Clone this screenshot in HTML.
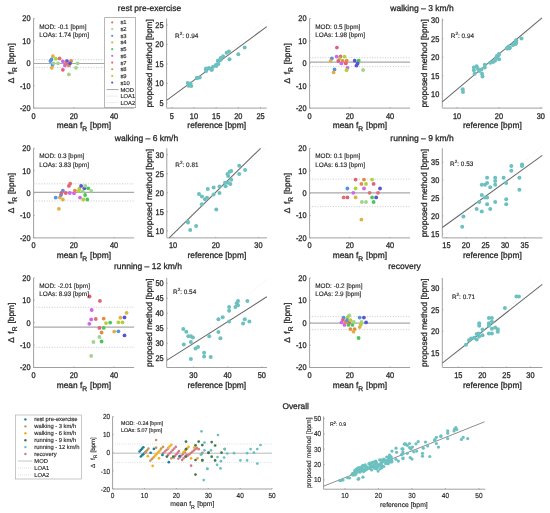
<!DOCTYPE html><html><head><meta charset="utf-8"><style>html,body{margin:0;padding:0;background:#fff;overflow:hidden;font-family:"Liberation Sans",sans-serif}svg{display:block;filter:blur(0.3px)}</style></head><body><svg width="550" height="513" viewBox="0 0 550 513" font-family="Liberation Sans, sans-serif"><style>text{stroke:#222;stroke-width:0.26px;text-rendering:geometricPrecision} text[font-size^="5"],text[font-size^="6"]{stroke-width:0.14px}</style>
<rect width="550" height="513" fill="#ffffff"/>
<text x="149.50" y="11.40" font-size="8.5" text-anchor="middle" fill="#262626">rest pre-exercise</text>
<text x="422.00" y="11.40" font-size="8.5" text-anchor="middle" fill="#262626">walking &#8211; 3 km/h</text>
<line x1="33.60" y1="18.50" x2="33.60" y2="108.10" stroke="#a0a0a0" stroke-width="1"/>
<line x1="33.60" y1="108.10" x2="134.10" y2="108.10" stroke="#a0a0a0" stroke-width="1"/>
<line x1="33.60" y1="108.10" x2="33.60" y2="107.10" stroke="#a0a0a0" stroke-width="1"/>
<text transform="translate(33.60 118.60) scale(1 1.12)" font-size="7.4" text-anchor="middle" fill="#262626">0</text>
<line x1="73.80" y1="108.10" x2="73.80" y2="107.10" stroke="#a0a0a0" stroke-width="1"/>
<text transform="translate(73.80 118.60) scale(1 1.12)" font-size="7.4" text-anchor="middle" fill="#262626">20</text>
<line x1="114.00" y1="108.10" x2="114.00" y2="107.10" stroke="#a0a0a0" stroke-width="1"/>
<text transform="translate(114.00 118.60) scale(1 1.12)" font-size="7.4" text-anchor="middle" fill="#262626">40</text>
<line x1="33.60" y1="108.10" x2="34.60" y2="108.10" stroke="#a0a0a0" stroke-width="1"/>
<text transform="translate(30.60 111.08) scale(1 1.12)" font-size="7.4" text-anchor="end" fill="#262626">-20</text>
<line x1="33.60" y1="85.70" x2="34.60" y2="85.70" stroke="#a0a0a0" stroke-width="1"/>
<text transform="translate(30.60 88.68) scale(1 1.12)" font-size="7.4" text-anchor="end" fill="#262626">-10</text>
<line x1="33.60" y1="63.30" x2="34.60" y2="63.30" stroke="#a0a0a0" stroke-width="1"/>
<text transform="translate(30.60 66.28) scale(1 1.12)" font-size="7.4" text-anchor="end" fill="#262626">0</text>
<line x1="33.60" y1="40.90" x2="34.60" y2="40.90" stroke="#a0a0a0" stroke-width="1"/>
<text transform="translate(30.60 43.88) scale(1 1.12)" font-size="7.4" text-anchor="end" fill="#262626">10</text>
<line x1="33.60" y1="18.50" x2="34.60" y2="18.50" stroke="#a0a0a0" stroke-width="1"/>
<text transform="translate(30.60 21.48) scale(1 1.12)" font-size="7.4" text-anchor="end" fill="#262626">20</text>
<line x1="33.60" y1="59.63" x2="134.10" y2="59.63" stroke="#bdbdbd" stroke-width="0.8" stroke-dasharray="1 1.6"/>
<line x1="33.60" y1="67.42" x2="134.10" y2="67.42" stroke="#bdbdbd" stroke-width="0.8" stroke-dasharray="1 1.6"/>
<line x1="33.60" y1="63.52" x2="134.10" y2="63.52" stroke="#a8a8a8" stroke-width="1.2"/>
<circle cx="52.90" cy="56.20" r="1.9" fill="#e0b045"/>
<circle cx="51.50" cy="59.50" r="1.9" fill="#5593e2"/>
<circle cx="50.40" cy="61.10" r="1.9" fill="#5593e2"/>
<circle cx="52.50" cy="64.90" r="1.9" fill="#5593e2"/>
<circle cx="55.80" cy="58.70" r="1.9" fill="#b2d03a"/>
<circle cx="53.60" cy="63.30" r="1.9" fill="#a2d28f"/>
<circle cx="58.00" cy="63.30" r="1.9" fill="#a2d28f"/>
<circle cx="51.80" cy="67.80" r="1.9" fill="#e0b045"/>
<circle cx="59.60" cy="58.40" r="1.9" fill="#e27070"/>
<circle cx="62.90" cy="61.30" r="1.9" fill="#d066f0"/>
<circle cx="64.90" cy="65.40" r="1.9" fill="#d066f0"/>
<circle cx="62.90" cy="69.80" r="1.9" fill="#e3607a"/>
<circle cx="67.00" cy="61.10" r="1.9" fill="#5a55d2"/>
<circle cx="71.10" cy="60.90" r="1.9" fill="#e38a48"/>
<circle cx="68.90" cy="65.40" r="1.9" fill="#e38a48"/>
<circle cx="70.00" cy="63.30" r="1.9" fill="#5a55d2"/>
<circle cx="77.60" cy="63.30" r="1.9" fill="#a2d28f"/>
<circle cx="76.00" cy="67.80" r="1.9" fill="#a2d28f"/>
<circle cx="68.90" cy="74.40" r="1.9" fill="#a2d28f"/>
<circle cx="66.00" cy="63.50" r="1.9" fill="#e27070"/>
<text x="39.20" y="28.60" font-size="6.4" text-anchor="start" fill="#262626">MOD: -0.1 [bpm]</text>
<text x="39.20" y="36.70" font-size="6.4" text-anchor="start" fill="#262626">LOAs: 1.74 [bpm]</text>
<text x="83.85" y="128.30" font-size="8.4" text-anchor="middle" fill="#262626">mean f<tspan font-size="6.72" dy="3">R</tspan><tspan dy="-3" dx="0.6"> [bpm]</tspan></text>
<text x="14.00" y="63.30" font-size="8.4" text-anchor="middle" fill="#262626" transform="rotate(-90 14.00 63.30)">&#916;<tspan dx="1.6"> f</tspan><tspan font-size="6.72" dy="3">R</tspan><tspan dy="-3" dx="0.6"> [bpm]</tspan></text>
<rect x="104.6" y="17.6" width="31" height="90" fill="#ffffff" stroke="#a6a6a6" stroke-width="0.8"/>
<circle cx="112.20" cy="22.40" r="1.1" fill="#e27070"/>
<text x="120.40" y="24.40" font-size="5.8" text-anchor="start" fill="#262626">s1</text>
<circle cx="112.20" cy="29.09" r="1.1" fill="#a2d28f"/>
<text x="120.40" y="31.09" font-size="5.8" text-anchor="start" fill="#262626">s2</text>
<circle cx="112.20" cy="35.78" r="1.1" fill="#5593e2"/>
<text x="120.40" y="37.78" font-size="5.8" text-anchor="start" fill="#262626">s3</text>
<circle cx="112.20" cy="42.47" r="1.1" fill="#e0b045"/>
<text x="120.40" y="44.47" font-size="5.8" text-anchor="start" fill="#262626">s4</text>
<circle cx="112.20" cy="49.16" r="1.1" fill="#48c858"/>
<text x="120.40" y="51.16" font-size="5.8" text-anchor="start" fill="#262626">s5</text>
<circle cx="112.20" cy="55.85" r="1.1" fill="#d066f0"/>
<text x="120.40" y="57.85" font-size="5.8" text-anchor="start" fill="#262626">s6</text>
<circle cx="112.20" cy="62.54" r="1.1" fill="#e3607a"/>
<text x="120.40" y="64.54" font-size="5.8" text-anchor="start" fill="#262626">s7</text>
<circle cx="112.20" cy="69.23" r="1.1" fill="#e38a48"/>
<text x="120.40" y="71.23" font-size="5.8" text-anchor="start" fill="#262626">s8</text>
<circle cx="112.20" cy="75.92" r="1.1" fill="#b2d03a"/>
<text x="120.40" y="77.92" font-size="5.8" text-anchor="start" fill="#262626">s9</text>
<circle cx="112.20" cy="82.61" r="1.1" fill="#5a55d2"/>
<text x="120.40" y="84.61" font-size="5.8" text-anchor="start" fill="#262626">s10</text>
<line x1="106.50" y1="89.60" x2="118.50" y2="89.60" stroke="#909090" stroke-width="0.8"/>
<text x="120.40" y="91.60" font-size="5.8" text-anchor="start" fill="#262626">MOD</text>
<line x1="106.50" y1="96.10" x2="118.50" y2="96.10" stroke="#cfcfcf" stroke-width="0.8" stroke-dasharray="1 1"/>
<text x="120.40" y="98.10" font-size="5.8" text-anchor="start" fill="#262626">LOA1</text>
<line x1="106.50" y1="102.60" x2="118.50" y2="102.60" stroke="#cfcfcf" stroke-width="0.8" stroke-dasharray="1 1"/>
<text x="120.40" y="104.60" font-size="5.8" text-anchor="start" fill="#262626">LOA2</text>
<line x1="166.60" y1="18.50" x2="166.60" y2="108.10" stroke="#a0a0a0" stroke-width="1"/>
<line x1="166.60" y1="108.10" x2="266.80" y2="108.10" stroke="#a0a0a0" stroke-width="1"/>
<line x1="171.79" y1="108.10" x2="171.79" y2="107.10" stroke="#a0a0a0" stroke-width="1"/>
<text transform="translate(171.79 118.60) scale(1 1.12)" font-size="7.4" text-anchor="middle" fill="#262626">5</text>
<line x1="193.97" y1="108.10" x2="193.97" y2="107.10" stroke="#a0a0a0" stroke-width="1"/>
<text transform="translate(193.97 118.60) scale(1 1.12)" font-size="7.4" text-anchor="middle" fill="#262626">10</text>
<line x1="216.15" y1="108.10" x2="216.15" y2="107.10" stroke="#a0a0a0" stroke-width="1"/>
<text transform="translate(216.15 118.60) scale(1 1.12)" font-size="7.4" text-anchor="middle" fill="#262626">15</text>
<line x1="238.32" y1="108.10" x2="238.32" y2="107.10" stroke="#a0a0a0" stroke-width="1"/>
<text transform="translate(238.32 118.60) scale(1 1.12)" font-size="7.4" text-anchor="middle" fill="#262626">20</text>
<line x1="260.50" y1="108.10" x2="260.50" y2="107.10" stroke="#a0a0a0" stroke-width="1"/>
<text transform="translate(260.50 118.60) scale(1 1.12)" font-size="7.4" text-anchor="middle" fill="#262626">25</text>
<line x1="166.60" y1="102.92" x2="167.60" y2="102.92" stroke="#a0a0a0" stroke-width="1"/>
<text transform="translate(163.60 105.90) scale(1 1.12)" font-size="7.4" text-anchor="end" fill="#262626">5</text>
<line x1="166.60" y1="83.44" x2="167.60" y2="83.44" stroke="#a0a0a0" stroke-width="1"/>
<text transform="translate(163.60 86.42) scale(1 1.12)" font-size="7.4" text-anchor="end" fill="#262626">10</text>
<line x1="166.60" y1="63.96" x2="167.60" y2="63.96" stroke="#a0a0a0" stroke-width="1"/>
<text transform="translate(163.60 66.95) scale(1 1.12)" font-size="7.4" text-anchor="end" fill="#262626">15</text>
<line x1="166.60" y1="44.48" x2="167.60" y2="44.48" stroke="#a0a0a0" stroke-width="1"/>
<text transform="translate(163.60 47.47) scale(1 1.12)" font-size="7.4" text-anchor="end" fill="#262626">20</text>
<line x1="166.60" y1="25.01" x2="167.60" y2="25.01" stroke="#a0a0a0" stroke-width="1"/>
<text transform="translate(163.60 27.99) scale(1 1.12)" font-size="7.4" text-anchor="end" fill="#262626">25</text>
<line x1="166.60" y1="107.48" x2="266.80" y2="19.47" stroke="#dedede" stroke-width="0.6" stroke-dasharray="1 1.5"/>
<line x1="166.60" y1="100.30" x2="266.80" y2="26.60" stroke="#686868" stroke-width="1.05"/>
<circle cx="244.70" cy="47.50" r="2.0" fill="#6cc0c0"/>
<circle cx="238.30" cy="54.20" r="2.0" fill="#6cc0c0"/>
<circle cx="229.50" cy="59.20" r="2.0" fill="#6cc0c0"/>
<circle cx="228.90" cy="51.60" r="2.0" fill="#6cc0c0"/>
<circle cx="226.60" cy="52.80" r="2.0" fill="#6cc0c0"/>
<circle cx="223.10" cy="56.30" r="2.0" fill="#6cc0c0"/>
<circle cx="220.70" cy="58.10" r="2.0" fill="#6cc0c0"/>
<circle cx="217.80" cy="61.00" r="2.0" fill="#6cc0c0"/>
<circle cx="218.40" cy="63.90" r="2.0" fill="#6cc0c0"/>
<circle cx="216.00" cy="65.10" r="2.0" fill="#6cc0c0"/>
<circle cx="213.10" cy="66.80" r="2.0" fill="#6cc0c0"/>
<circle cx="211.40" cy="69.80" r="2.0" fill="#6cc0c0"/>
<circle cx="209.00" cy="68.00" r="2.0" fill="#6cc0c0"/>
<circle cx="206.10" cy="68.60" r="2.0" fill="#6cc0c0"/>
<circle cx="206.10" cy="70.90" r="2.0" fill="#6cc0c0"/>
<circle cx="199.70" cy="77.40" r="2.0" fill="#6cc0c0"/>
<circle cx="196.80" cy="78.00" r="2.0" fill="#6cc0c0"/>
<circle cx="187.80" cy="83.00" r="2.0" fill="#6cc0c0"/>
<circle cx="190.50" cy="83.40" r="2.0" fill="#6cc0c0"/>
<circle cx="188.50" cy="85.80" r="2.0" fill="#6cc0c0"/>
<circle cx="191.30" cy="86.00" r="2.0" fill="#6cc0c0"/>
<circle cx="197.20" cy="78.00" r="2.0" fill="#6cc0c0"/>
<circle cx="205.90" cy="69.30" r="2.0" fill="#6cc0c0"/>
<circle cx="211.90" cy="69.80" r="2.0" fill="#6cc0c0"/>
<circle cx="216.30" cy="66.00" r="2.0" fill="#6cc0c0"/>
<circle cx="218.40" cy="60.50" r="2.0" fill="#6cc0c0"/>
<circle cx="220.60" cy="60.00" r="2.0" fill="#6cc0c0"/>
<text x="175.10" y="37.80" font-size="6.4" fill="#262626">R<tspan font-size="4.61" dy="-2.8">2</tspan><tspan dy="2.8">: 0.94</tspan></text>
<text x="216.70" y="128.30" font-size="8.4" text-anchor="middle" fill="#262626">reference [bpm]</text>
<text transform="translate(151.60 63.30) rotate(-90) scale(1 1.0)" font-size="8.4" text-anchor="middle" fill="#262626">proposed method [bpm]</text>
<line x1="309.60" y1="18.50" x2="309.60" y2="108.10" stroke="#a0a0a0" stroke-width="1"/>
<line x1="309.60" y1="108.10" x2="410.10" y2="108.10" stroke="#a0a0a0" stroke-width="1"/>
<line x1="309.60" y1="108.10" x2="309.60" y2="107.10" stroke="#a0a0a0" stroke-width="1"/>
<text transform="translate(309.60 118.60) scale(1 1.12)" font-size="7.4" text-anchor="middle" fill="#262626">0</text>
<line x1="349.80" y1="108.10" x2="349.80" y2="107.10" stroke="#a0a0a0" stroke-width="1"/>
<text transform="translate(349.80 118.60) scale(1 1.12)" font-size="7.4" text-anchor="middle" fill="#262626">20</text>
<line x1="390.00" y1="108.10" x2="390.00" y2="107.10" stroke="#a0a0a0" stroke-width="1"/>
<text transform="translate(390.00 118.60) scale(1 1.12)" font-size="7.4" text-anchor="middle" fill="#262626">40</text>
<line x1="309.60" y1="108.10" x2="310.60" y2="108.10" stroke="#a0a0a0" stroke-width="1"/>
<text transform="translate(306.60 111.08) scale(1 1.12)" font-size="7.4" text-anchor="end" fill="#262626">-20</text>
<line x1="309.60" y1="85.70" x2="310.60" y2="85.70" stroke="#a0a0a0" stroke-width="1"/>
<text transform="translate(306.60 88.68) scale(1 1.12)" font-size="7.4" text-anchor="end" fill="#262626">-10</text>
<line x1="309.60" y1="63.30" x2="310.60" y2="63.30" stroke="#a0a0a0" stroke-width="1"/>
<text transform="translate(306.60 66.28) scale(1 1.12)" font-size="7.4" text-anchor="end" fill="#262626">0</text>
<line x1="309.60" y1="40.90" x2="310.60" y2="40.90" stroke="#a0a0a0" stroke-width="1"/>
<text transform="translate(306.60 43.88) scale(1 1.12)" font-size="7.4" text-anchor="end" fill="#262626">10</text>
<line x1="309.60" y1="18.50" x2="310.60" y2="18.50" stroke="#a0a0a0" stroke-width="1"/>
<text transform="translate(306.60 21.48) scale(1 1.12)" font-size="7.4" text-anchor="end" fill="#262626">20</text>
<line x1="309.60" y1="57.74" x2="410.10" y2="57.74" stroke="#bdbdbd" stroke-width="0.8" stroke-dasharray="1 1.6"/>
<line x1="309.60" y1="66.62" x2="410.10" y2="66.62" stroke="#bdbdbd" stroke-width="0.8" stroke-dasharray="1 1.6"/>
<line x1="309.60" y1="62.18" x2="410.10" y2="62.18" stroke="#a8a8a8" stroke-width="1.2"/>
<circle cx="336.90" cy="47.60" r="1.9" fill="#e3607a"/>
<circle cx="331.80" cy="58.50" r="1.9" fill="#5593e2"/>
<circle cx="330.60" cy="61.00" r="1.9" fill="#e0b045"/>
<circle cx="336.60" cy="56.60" r="1.9" fill="#d066f0"/>
<circle cx="340.50" cy="56.40" r="1.9" fill="#e27070"/>
<circle cx="339.60" cy="58.80" r="1.9" fill="#b2d03a"/>
<circle cx="344.50" cy="56.60" r="1.9" fill="#b2d03a"/>
<circle cx="338.30" cy="61.00" r="1.9" fill="#e3607a"/>
<circle cx="342.70" cy="60.90" r="1.9" fill="#e38a48"/>
<circle cx="346.70" cy="60.70" r="1.9" fill="#e38a48"/>
<circle cx="341.30" cy="63.40" r="1.9" fill="#d066f0"/>
<circle cx="345.80" cy="63.40" r="1.9" fill="#e3607a"/>
<circle cx="347.50" cy="67.80" r="1.9" fill="#d066f0"/>
<circle cx="346.50" cy="70.20" r="1.9" fill="#b2d03a"/>
<circle cx="334.50" cy="69.40" r="1.9" fill="#5593e2"/>
<circle cx="333.60" cy="72.40" r="1.9" fill="#e0b045"/>
<circle cx="354.70" cy="60.70" r="1.9" fill="#5a55d2"/>
<circle cx="358.70" cy="60.70" r="1.9" fill="#48c858"/>
<circle cx="357.60" cy="63.40" r="1.9" fill="#5a55d2"/>
<circle cx="356.50" cy="65.60" r="1.9" fill="#5a55d2"/>
<circle cx="363.10" cy="70.00" r="1.9" fill="#a2d28f"/>
<text x="315.20" y="28.60" font-size="6.4" text-anchor="start" fill="#262626">MOD: 0.5 [bpm]</text>
<text x="315.20" y="36.70" font-size="6.4" text-anchor="start" fill="#262626">LOAs: 1.98 [bpm]</text>
<text x="359.85" y="128.30" font-size="8.4" text-anchor="middle" fill="#262626">mean f<tspan font-size="6.72" dy="3">R</tspan><tspan dy="-3" dx="0.6"> [bpm]</tspan></text>
<text x="290.00" y="63.30" font-size="8.4" text-anchor="middle" fill="#262626" transform="rotate(-90 290.00 63.30)">&#916;<tspan dx="1.6"> f</tspan><tspan font-size="6.72" dy="3">R</tspan><tspan dy="-3" dx="0.6"> [bpm]</tspan></text>
<line x1="442.30" y1="18.50" x2="442.30" y2="108.10" stroke="#a0a0a0" stroke-width="1"/>
<line x1="442.30" y1="108.10" x2="542.50" y2="108.10" stroke="#a0a0a0" stroke-width="1"/>
<line x1="457.08" y1="108.10" x2="457.08" y2="107.10" stroke="#a0a0a0" stroke-width="1"/>
<text transform="translate(457.08 118.60) scale(1 1.12)" font-size="7.4" text-anchor="middle" fill="#262626">10</text>
<line x1="498.95" y1="108.10" x2="498.95" y2="107.10" stroke="#a0a0a0" stroke-width="1"/>
<text transform="translate(498.95 118.60) scale(1 1.12)" font-size="7.4" text-anchor="middle" fill="#262626">20</text>
<line x1="540.83" y1="108.10" x2="540.83" y2="107.10" stroke="#a0a0a0" stroke-width="1"/>
<text transform="translate(540.83 118.60) scale(1 1.12)" font-size="7.4" text-anchor="middle" fill="#262626">30</text>
<line x1="442.30" y1="94.09" x2="443.30" y2="94.09" stroke="#a0a0a0" stroke-width="1"/>
<text transform="translate(439.30 97.07) scale(1 1.12)" font-size="7.4" text-anchor="end" fill="#262626">10</text>
<line x1="442.30" y1="75.65" x2="443.30" y2="75.65" stroke="#a0a0a0" stroke-width="1"/>
<text transform="translate(439.30 78.64) scale(1 1.12)" font-size="7.4" text-anchor="end" fill="#262626">15</text>
<line x1="442.30" y1="57.22" x2="443.30" y2="57.22" stroke="#a0a0a0" stroke-width="1"/>
<text transform="translate(439.30 60.20) scale(1 1.12)" font-size="7.4" text-anchor="end" fill="#262626">20</text>
<line x1="442.30" y1="38.78" x2="443.30" y2="38.78" stroke="#a0a0a0" stroke-width="1"/>
<text transform="translate(439.30 41.76) scale(1 1.12)" font-size="7.4" text-anchor="end" fill="#262626">25</text>
<line x1="442.30" y1="20.34" x2="443.30" y2="20.34" stroke="#a0a0a0" stroke-width="1"/>
<text transform="translate(439.30 23.33) scale(1 1.12)" font-size="7.4" text-anchor="end" fill="#262626">30</text>
<line x1="442.30" y1="107.10" x2="542.50" y2="18.87" stroke="#dedede" stroke-width="0.6" stroke-dasharray="1 1.5"/>
<line x1="442.30" y1="101.80" x2="542.00" y2="17.80" stroke="#686868" stroke-width="1.05"/>
<circle cx="462.70" cy="89.30" r="2.0" fill="#6cc0c0"/>
<circle cx="463.00" cy="92.10" r="2.0" fill="#6cc0c0"/>
<circle cx="473.90" cy="67.50" r="2.0" fill="#6cc0c0"/>
<circle cx="473.90" cy="70.20" r="2.0" fill="#6cc0c0"/>
<circle cx="474.60" cy="73.70" r="2.0" fill="#6cc0c0"/>
<circle cx="476.60" cy="66.20" r="2.0" fill="#6cc0c0"/>
<circle cx="478.00" cy="68.90" r="2.0" fill="#6cc0c0"/>
<circle cx="479.30" cy="70.90" r="2.0" fill="#6cc0c0"/>
<circle cx="481.40" cy="69.60" r="2.0" fill="#6cc0c0"/>
<circle cx="482.00" cy="73.70" r="2.0" fill="#6cc0c0"/>
<circle cx="482.50" cy="76.40" r="2.0" fill="#6cc0c0"/>
<circle cx="484.80" cy="64.80" r="2.0" fill="#6cc0c0"/>
<circle cx="484.80" cy="67.50" r="2.0" fill="#6cc0c0"/>
<circle cx="490.20" cy="62.70" r="2.0" fill="#6cc0c0"/>
<circle cx="493.00" cy="62.00" r="2.0" fill="#6cc0c0"/>
<circle cx="495.00" cy="60.70" r="2.0" fill="#6cc0c0"/>
<circle cx="496.40" cy="57.30" r="2.0" fill="#6cc0c0"/>
<circle cx="498.40" cy="55.20" r="2.0" fill="#6cc0c0"/>
<circle cx="497.00" cy="58.60" r="2.0" fill="#6cc0c0"/>
<circle cx="499.10" cy="59.30" r="2.0" fill="#6cc0c0"/>
<circle cx="507.30" cy="47.70" r="2.0" fill="#6cc0c0"/>
<circle cx="510.00" cy="47.70" r="2.0" fill="#6cc0c0"/>
<circle cx="508.70" cy="46.40" r="2.0" fill="#6cc0c0"/>
<circle cx="513.40" cy="44.30" r="2.0" fill="#6cc0c0"/>
<circle cx="516.20" cy="43.00" r="2.0" fill="#6cc0c0"/>
<circle cx="516.20" cy="40.20" r="2.0" fill="#6cc0c0"/>
<circle cx="521.50" cy="38.50" r="2.0" fill="#6cc0c0"/>
<circle cx="516.00" cy="40.50" r="2.0" fill="#6cc0c0"/>
<circle cx="515.50" cy="44.00" r="2.0" fill="#6cc0c0"/>
<circle cx="513.00" cy="45.00" r="2.0" fill="#6cc0c0"/>
<circle cx="509.00" cy="48.50" r="2.0" fill="#6cc0c0"/>
<circle cx="507.00" cy="48.50" r="2.0" fill="#6cc0c0"/>
<circle cx="497.00" cy="56.00" r="2.0" fill="#6cc0c0"/>
<circle cx="499.00" cy="54.00" r="2.0" fill="#6cc0c0"/>
<text x="450.80" y="37.80" font-size="6.4" fill="#262626">R<tspan font-size="4.61" dy="-2.8">2</tspan><tspan dy="2.8">: 0.94</tspan></text>
<text x="492.40" y="128.30" font-size="8.4" text-anchor="middle" fill="#262626">reference [bpm]</text>
<text transform="translate(427.30 63.30) rotate(-90) scale(1 1.0)" font-size="8.4" text-anchor="middle" fill="#262626">proposed method [bpm]</text>
<text x="146.50" y="140.80" font-size="8.5" text-anchor="middle" fill="#262626">walking &#8211; 6 km/h</text>
<text x="422.00" y="140.80" font-size="8.5" text-anchor="middle" fill="#262626">running &#8211; 9 km/h</text>
<line x1="33.60" y1="148.30" x2="33.60" y2="237.90" stroke="#a0a0a0" stroke-width="1"/>
<line x1="33.60" y1="237.90" x2="134.10" y2="237.90" stroke="#a0a0a0" stroke-width="1"/>
<line x1="33.60" y1="237.90" x2="33.60" y2="236.90" stroke="#a0a0a0" stroke-width="1"/>
<text transform="translate(33.60 248.40) scale(1 1.12)" font-size="7.4" text-anchor="middle" fill="#262626">0</text>
<line x1="73.80" y1="237.90" x2="73.80" y2="236.90" stroke="#a0a0a0" stroke-width="1"/>
<text transform="translate(73.80 248.40) scale(1 1.12)" font-size="7.4" text-anchor="middle" fill="#262626">20</text>
<line x1="114.00" y1="237.90" x2="114.00" y2="236.90" stroke="#a0a0a0" stroke-width="1"/>
<text transform="translate(114.00 248.40) scale(1 1.12)" font-size="7.4" text-anchor="middle" fill="#262626">40</text>
<line x1="33.60" y1="237.90" x2="34.60" y2="237.90" stroke="#a0a0a0" stroke-width="1"/>
<text transform="translate(30.60 240.88) scale(1 1.12)" font-size="7.4" text-anchor="end" fill="#262626">-20</text>
<line x1="33.60" y1="215.50" x2="34.60" y2="215.50" stroke="#a0a0a0" stroke-width="1"/>
<text transform="translate(30.60 218.48) scale(1 1.12)" font-size="7.4" text-anchor="end" fill="#262626">-10</text>
<line x1="33.60" y1="193.10" x2="34.60" y2="193.10" stroke="#a0a0a0" stroke-width="1"/>
<text transform="translate(30.60 196.08) scale(1 1.12)" font-size="7.4" text-anchor="end" fill="#262626">0</text>
<line x1="33.60" y1="170.70" x2="34.60" y2="170.70" stroke="#a0a0a0" stroke-width="1"/>
<text transform="translate(30.60 173.68) scale(1 1.12)" font-size="7.4" text-anchor="end" fill="#262626">10</text>
<line x1="33.60" y1="148.30" x2="34.60" y2="148.30" stroke="#a0a0a0" stroke-width="1"/>
<text transform="translate(30.60 151.28) scale(1 1.12)" font-size="7.4" text-anchor="end" fill="#262626">20</text>
<line x1="33.60" y1="183.85" x2="134.10" y2="183.85" stroke="#bdbdbd" stroke-width="0.8" stroke-dasharray="1 1.6"/>
<line x1="33.60" y1="201.01" x2="134.10" y2="201.01" stroke="#bdbdbd" stroke-width="0.8" stroke-dasharray="1 1.6"/>
<line x1="33.60" y1="192.43" x2="134.10" y2="192.43" stroke="#a8a8a8" stroke-width="1.2"/>
<circle cx="55.70" cy="197.60" r="1.9" fill="#5593e2"/>
<circle cx="59.80" cy="197.60" r="1.9" fill="#e0b045"/>
<circle cx="60.90" cy="195.00" r="1.9" fill="#5593e2"/>
<circle cx="62.90" cy="190.60" r="1.9" fill="#5593e2"/>
<circle cx="61.50" cy="193.00" r="1.9" fill="#e3607a"/>
<circle cx="62.90" cy="199.50" r="1.9" fill="#e0b045"/>
<circle cx="58.90" cy="208.80" r="1.9" fill="#e0b045"/>
<circle cx="65.80" cy="193.00" r="1.9" fill="#e3607a"/>
<circle cx="70.20" cy="183.70" r="1.9" fill="#e27070"/>
<circle cx="68.90" cy="185.90" r="1.9" fill="#e3607a"/>
<circle cx="69.80" cy="193.00" r="1.9" fill="#d066f0"/>
<circle cx="74.00" cy="193.30" r="1.9" fill="#d066f0"/>
<circle cx="74.90" cy="190.60" r="1.9" fill="#e38a48"/>
<circle cx="79.40" cy="188.60" r="1.9" fill="#b2d03a"/>
<circle cx="78.90" cy="190.80" r="1.9" fill="#b2d03a"/>
<circle cx="81.10" cy="185.90" r="1.9" fill="#5a55d2"/>
<circle cx="84.40" cy="188.30" r="1.9" fill="#5a55d2"/>
<circle cx="85.20" cy="185.90" r="1.9" fill="#a2d28f"/>
<circle cx="82.70" cy="191.40" r="1.9" fill="#a2d28f"/>
<circle cx="88.20" cy="188.30" r="1.9" fill="#48c858"/>
<circle cx="85.10" cy="195.00" r="1.9" fill="#48c858"/>
<circle cx="87.30" cy="199.50" r="1.9" fill="#48c858"/>
<circle cx="91.20" cy="190.80" r="1.9" fill="#a2d28f"/>
<circle cx="80.00" cy="197.60" r="1.9" fill="#d066f0"/>
<circle cx="83.30" cy="199.50" r="1.9" fill="#b2d03a"/>
<text x="39.20" y="158.40" font-size="6.4" text-anchor="start" fill="#262626">MOD: 0.3 [bpm]</text>
<text x="39.20" y="166.50" font-size="6.4" text-anchor="start" fill="#262626">LOAs: 3.83 [bpm]</text>
<text x="83.85" y="258.10" font-size="8.4" text-anchor="middle" fill="#262626">mean f<tspan font-size="6.72" dy="3">R</tspan><tspan dy="-3" dx="0.6"> [bpm]</tspan></text>
<text x="14.00" y="193.10" font-size="8.4" text-anchor="middle" fill="#262626" transform="rotate(-90 14.00 193.10)">&#916;<tspan dx="1.6"> f</tspan><tspan font-size="6.72" dy="3">R</tspan><tspan dy="-3" dx="0.6"> [bpm]</tspan></text>
<line x1="166.80" y1="148.30" x2="166.80" y2="237.90" stroke="#a0a0a0" stroke-width="1"/>
<line x1="166.80" y1="237.90" x2="267.00" y2="237.90" stroke="#a0a0a0" stroke-width="1"/>
<line x1="173.12" y1="237.90" x2="173.12" y2="236.90" stroke="#a0a0a0" stroke-width="1"/>
<text transform="translate(173.12 248.40) scale(1 1.12)" font-size="7.4" text-anchor="middle" fill="#262626">10</text>
<line x1="215.79" y1="237.90" x2="215.79" y2="236.90" stroke="#a0a0a0" stroke-width="1"/>
<text transform="translate(215.79 248.40) scale(1 1.12)" font-size="7.4" text-anchor="middle" fill="#262626">20</text>
<line x1="258.47" y1="237.90" x2="258.47" y2="236.90" stroke="#a0a0a0" stroke-width="1"/>
<text transform="translate(258.47 248.40) scale(1 1.12)" font-size="7.4" text-anchor="middle" fill="#262626">30</text>
<line x1="166.80" y1="230.79" x2="167.80" y2="230.79" stroke="#a0a0a0" stroke-width="1"/>
<text transform="translate(163.80 233.77) scale(1 1.12)" font-size="7.4" text-anchor="end" fill="#262626">10</text>
<line x1="166.80" y1="211.78" x2="167.80" y2="211.78" stroke="#a0a0a0" stroke-width="1"/>
<text transform="translate(163.80 214.77) scale(1 1.12)" font-size="7.4" text-anchor="end" fill="#262626">15</text>
<line x1="166.80" y1="192.78" x2="167.80" y2="192.78" stroke="#a0a0a0" stroke-width="1"/>
<text transform="translate(163.80 195.76) scale(1 1.12)" font-size="7.4" text-anchor="end" fill="#262626">20</text>
<line x1="166.80" y1="173.77" x2="167.80" y2="173.77" stroke="#a0a0a0" stroke-width="1"/>
<text transform="translate(163.80 176.75) scale(1 1.12)" font-size="7.4" text-anchor="end" fill="#262626">25</text>
<line x1="166.80" y1="154.76" x2="167.80" y2="154.76" stroke="#a0a0a0" stroke-width="1"/>
<text transform="translate(163.80 157.75) scale(1 1.12)" font-size="7.4" text-anchor="end" fill="#262626">30</text>
<line x1="166.80" y1="236.42" x2="265.72" y2="148.30" stroke="#dedede" stroke-width="0.6" stroke-dasharray="1 1.5"/>
<line x1="169.20" y1="237.90" x2="260.60" y2="148.30" stroke="#686868" stroke-width="1.05"/>
<circle cx="187.60" cy="221.40" r="2.0" fill="#6cc0c0"/>
<circle cx="188.00" cy="222.60" r="2.0" fill="#6cc0c0"/>
<circle cx="190.20" cy="229.90" r="2.0" fill="#6cc0c0"/>
<circle cx="196.10" cy="226.10" r="2.0" fill="#6cc0c0"/>
<circle cx="199.00" cy="194.10" r="2.0" fill="#6cc0c0"/>
<circle cx="201.90" cy="196.50" r="2.0" fill="#6cc0c0"/>
<circle cx="201.90" cy="204.20" r="2.0" fill="#6cc0c0"/>
<circle cx="204.90" cy="199.20" r="2.0" fill="#6cc0c0"/>
<circle cx="207.00" cy="197.70" r="2.0" fill="#6cc0c0"/>
<circle cx="207.80" cy="188.90" r="2.0" fill="#6cc0c0"/>
<circle cx="213.60" cy="187.50" r="2.0" fill="#6cc0c0"/>
<circle cx="213.60" cy="194.40" r="2.0" fill="#6cc0c0"/>
<circle cx="216.30" cy="209.40" r="2.0" fill="#6cc0c0"/>
<circle cx="219.50" cy="186.60" r="2.0" fill="#6cc0c0"/>
<circle cx="219.50" cy="192.90" r="2.0" fill="#6cc0c0"/>
<circle cx="225.00" cy="182.70" r="2.0" fill="#6cc0c0"/>
<circle cx="225.60" cy="186.30" r="2.0" fill="#6cc0c0"/>
<circle cx="228.00" cy="182.70" r="2.0" fill="#6cc0c0"/>
<circle cx="230.40" cy="184.10" r="2.0" fill="#6cc0c0"/>
<circle cx="231.20" cy="179.70" r="2.0" fill="#6cc0c0"/>
<circle cx="227.50" cy="173.90" r="2.0" fill="#6cc0c0"/>
<circle cx="228.20" cy="176.10" r="2.0" fill="#6cc0c0"/>
<circle cx="229.70" cy="171.70" r="2.0" fill="#6cc0c0"/>
<circle cx="231.20" cy="171.00" r="2.0" fill="#6cc0c0"/>
<circle cx="239.20" cy="165.80" r="2.0" fill="#6cc0c0"/>
<circle cx="239.20" cy="173.90" r="2.0" fill="#6cc0c0"/>
<circle cx="245.10" cy="169.90" r="2.0" fill="#6cc0c0"/>
<text x="175.30" y="166.80" font-size="6.4" fill="#262626">R<tspan font-size="4.61" dy="-2.8">2</tspan><tspan dy="2.8">: 0.81</tspan></text>
<text x="216.90" y="258.10" font-size="8.4" text-anchor="middle" fill="#262626">reference [bpm]</text>
<text transform="translate(151.80 193.10) rotate(-90) scale(1 1.0)" font-size="8.4" text-anchor="middle" fill="#262626">proposed method [bpm]</text>
<line x1="309.60" y1="148.30" x2="309.60" y2="237.90" stroke="#a0a0a0" stroke-width="1"/>
<line x1="309.60" y1="237.90" x2="410.10" y2="237.90" stroke="#a0a0a0" stroke-width="1"/>
<line x1="309.60" y1="237.90" x2="309.60" y2="236.90" stroke="#a0a0a0" stroke-width="1"/>
<text transform="translate(309.60 248.40) scale(1 1.12)" font-size="7.4" text-anchor="middle" fill="#262626">0</text>
<line x1="349.80" y1="237.90" x2="349.80" y2="236.90" stroke="#a0a0a0" stroke-width="1"/>
<text transform="translate(349.80 248.40) scale(1 1.12)" font-size="7.4" text-anchor="middle" fill="#262626">20</text>
<line x1="390.00" y1="237.90" x2="390.00" y2="236.90" stroke="#a0a0a0" stroke-width="1"/>
<text transform="translate(390.00 248.40) scale(1 1.12)" font-size="7.4" text-anchor="middle" fill="#262626">40</text>
<line x1="309.60" y1="237.90" x2="310.60" y2="237.90" stroke="#a0a0a0" stroke-width="1"/>
<text transform="translate(306.60 240.88) scale(1 1.12)" font-size="7.4" text-anchor="end" fill="#262626">-20</text>
<line x1="309.60" y1="215.50" x2="310.60" y2="215.50" stroke="#a0a0a0" stroke-width="1"/>
<text transform="translate(306.60 218.48) scale(1 1.12)" font-size="7.4" text-anchor="end" fill="#262626">-10</text>
<line x1="309.60" y1="193.10" x2="310.60" y2="193.10" stroke="#a0a0a0" stroke-width="1"/>
<text transform="translate(306.60 196.08) scale(1 1.12)" font-size="7.4" text-anchor="end" fill="#262626">0</text>
<line x1="309.60" y1="170.70" x2="310.60" y2="170.70" stroke="#a0a0a0" stroke-width="1"/>
<text transform="translate(306.60 173.68) scale(1 1.12)" font-size="7.4" text-anchor="end" fill="#262626">10</text>
<line x1="309.60" y1="148.30" x2="310.60" y2="148.30" stroke="#a0a0a0" stroke-width="1"/>
<text transform="translate(306.60 151.28) scale(1 1.12)" font-size="7.4" text-anchor="end" fill="#262626">20</text>
<line x1="309.60" y1="179.14" x2="410.10" y2="179.14" stroke="#bdbdbd" stroke-width="0.8" stroke-dasharray="1 1.6"/>
<line x1="309.60" y1="206.61" x2="410.10" y2="206.61" stroke="#bdbdbd" stroke-width="0.8" stroke-dasharray="1 1.6"/>
<line x1="309.60" y1="192.88" x2="410.10" y2="192.88" stroke="#a8a8a8" stroke-width="1.2"/>
<circle cx="343.60" cy="197.40" r="1.9" fill="#e27070"/>
<circle cx="347.40" cy="197.40" r="1.9" fill="#e3607a"/>
<circle cx="347.40" cy="188.50" r="1.9" fill="#5593e2"/>
<circle cx="353.30" cy="192.80" r="1.9" fill="#d066f0"/>
<circle cx="355.60" cy="179.60" r="1.9" fill="#e3607a"/>
<circle cx="355.60" cy="197.40" r="1.9" fill="#e0b045"/>
<circle cx="355.60" cy="188.50" r="1.9" fill="#b2d03a"/>
<circle cx="361.40" cy="183.90" r="1.9" fill="#e38a48"/>
<circle cx="364.00" cy="179.60" r="1.9" fill="#e38a48"/>
<circle cx="366.00" cy="183.90" r="1.9" fill="#b2d03a"/>
<circle cx="364.00" cy="188.50" r="1.9" fill="#d066f0"/>
<circle cx="361.90" cy="202.00" r="1.9" fill="#a2d28f"/>
<circle cx="366.00" cy="202.00" r="1.9" fill="#a2d28f"/>
<circle cx="361.40" cy="219.60" r="1.9" fill="#e0b045"/>
<circle cx="369.60" cy="192.80" r="1.9" fill="#e27070"/>
<circle cx="372.10" cy="179.60" r="1.9" fill="#b2d03a"/>
<circle cx="373.60" cy="183.90" r="1.9" fill="#e3607a"/>
<circle cx="372.10" cy="197.40" r="1.9" fill="#48c858"/>
<circle cx="373.60" cy="202.00" r="1.9" fill="#48c858"/>
<circle cx="376.20" cy="197.40" r="1.9" fill="#5a55d2"/>
<circle cx="378.00" cy="192.80" r="1.9" fill="#e27070"/>
<circle cx="380.00" cy="188.50" r="1.9" fill="#5a55d2"/>
<text x="315.20" y="158.40" font-size="6.4" text-anchor="start" fill="#262626">MOD: 0.1 [bpm]</text>
<text x="315.20" y="166.50" font-size="6.4" text-anchor="start" fill="#262626">LOAs: 6.13 [bpm]</text>
<text x="359.85" y="258.10" font-size="8.4" text-anchor="middle" fill="#262626">mean f<tspan font-size="6.72" dy="3">R</tspan><tspan dy="-3" dx="0.6"> [bpm]</tspan></text>
<text x="290.00" y="193.10" font-size="8.4" text-anchor="middle" fill="#262626" transform="rotate(-90 290.00 193.10)">&#916;<tspan dx="1.6"> f</tspan><tspan font-size="6.72" dy="3">R</tspan><tspan dy="-3" dx="0.6"> [bpm]</tspan></text>
<line x1="442.30" y1="148.30" x2="442.30" y2="237.90" stroke="#a0a0a0" stroke-width="1"/>
<line x1="442.30" y1="237.90" x2="542.50" y2="237.90" stroke="#a0a0a0" stroke-width="1"/>
<line x1="446.41" y1="237.90" x2="446.41" y2="236.90" stroke="#a0a0a0" stroke-width="1"/>
<text transform="translate(446.41 248.40) scale(1 1.12)" font-size="7.4" text-anchor="middle" fill="#262626">15</text>
<line x1="465.97" y1="237.90" x2="465.97" y2="236.90" stroke="#a0a0a0" stroke-width="1"/>
<text transform="translate(465.97 248.40) scale(1 1.12)" font-size="7.4" text-anchor="middle" fill="#262626">20</text>
<line x1="485.53" y1="237.90" x2="485.53" y2="236.90" stroke="#a0a0a0" stroke-width="1"/>
<text transform="translate(485.53 248.40) scale(1 1.12)" font-size="7.4" text-anchor="middle" fill="#262626">25</text>
<line x1="505.10" y1="237.90" x2="505.10" y2="236.90" stroke="#a0a0a0" stroke-width="1"/>
<text transform="translate(505.10 248.40) scale(1 1.12)" font-size="7.4" text-anchor="middle" fill="#262626">30</text>
<line x1="524.66" y1="237.90" x2="524.66" y2="236.90" stroke="#a0a0a0" stroke-width="1"/>
<text transform="translate(524.66 248.40) scale(1 1.12)" font-size="7.4" text-anchor="middle" fill="#262626">35</text>
<line x1="442.30" y1="233.79" x2="443.30" y2="233.79" stroke="#a0a0a0" stroke-width="1"/>
<text transform="translate(439.30 236.77) scale(1 1.12)" font-size="7.4" text-anchor="end" fill="#262626">15</text>
<line x1="442.30" y1="215.90" x2="443.30" y2="215.90" stroke="#a0a0a0" stroke-width="1"/>
<text transform="translate(439.30 218.89) scale(1 1.12)" font-size="7.4" text-anchor="end" fill="#262626">20</text>
<line x1="442.30" y1="198.02" x2="443.30" y2="198.02" stroke="#a0a0a0" stroke-width="1"/>
<text transform="translate(439.30 201.00) scale(1 1.12)" font-size="7.4" text-anchor="end" fill="#262626">25</text>
<line x1="442.30" y1="180.13" x2="443.30" y2="180.13" stroke="#a0a0a0" stroke-width="1"/>
<text transform="translate(439.30 183.12) scale(1 1.12)" font-size="7.4" text-anchor="end" fill="#262626">30</text>
<line x1="442.30" y1="162.25" x2="443.30" y2="162.25" stroke="#a0a0a0" stroke-width="1"/>
<text transform="translate(439.30 165.23) scale(1 1.12)" font-size="7.4" text-anchor="end" fill="#262626">35</text>
<line x1="442.30" y1="237.54" x2="539.92" y2="148.30" stroke="#dedede" stroke-width="0.6" stroke-dasharray="1 1.5"/>
<line x1="442.30" y1="227.50" x2="542.30" y2="155.40" stroke="#686868" stroke-width="1.05"/>
<circle cx="462.20" cy="226.70" r="2.0" fill="#6cc0c0"/>
<circle cx="463.40" cy="216.50" r="2.0" fill="#6cc0c0"/>
<circle cx="476.70" cy="208.90" r="2.0" fill="#6cc0c0"/>
<circle cx="479.20" cy="202.00" r="2.0" fill="#6cc0c0"/>
<circle cx="481.80" cy="211.40" r="2.0" fill="#6cc0c0"/>
<circle cx="481.80" cy="194.90" r="2.0" fill="#6cc0c0"/>
<circle cx="481.80" cy="184.70" r="2.0" fill="#6cc0c0"/>
<circle cx="485.00" cy="184.70" r="2.0" fill="#6cc0c0"/>
<circle cx="485.00" cy="197.40" r="2.0" fill="#6cc0c0"/>
<circle cx="487.10" cy="177.80" r="2.0" fill="#6cc0c0"/>
<circle cx="487.10" cy="182.90" r="2.0" fill="#6cc0c0"/>
<circle cx="487.10" cy="204.30" r="2.0" fill="#6cc0c0"/>
<circle cx="487.10" cy="197.40" r="2.0" fill="#6cc0c0"/>
<circle cx="490.20" cy="187.30" r="2.0" fill="#6cc0c0"/>
<circle cx="490.20" cy="208.90" r="2.0" fill="#6cc0c0"/>
<circle cx="495.20" cy="177.80" r="2.0" fill="#6cc0c0"/>
<circle cx="495.20" cy="180.90" r="2.0" fill="#6cc0c0"/>
<circle cx="495.20" cy="184.70" r="2.0" fill="#6cc0c0"/>
<circle cx="495.20" cy="202.00" r="2.0" fill="#6cc0c0"/>
<circle cx="503.60" cy="177.80" r="2.0" fill="#6cc0c0"/>
<circle cx="506.20" cy="182.90" r="2.0" fill="#6cc0c0"/>
<circle cx="506.20" cy="199.20" r="2.0" fill="#6cc0c0"/>
<circle cx="506.20" cy="204.30" r="2.0" fill="#6cc0c0"/>
<circle cx="511.30" cy="166.10" r="2.0" fill="#6cc0c0"/>
<circle cx="511.30" cy="170.70" r="2.0" fill="#6cc0c0"/>
<circle cx="519.40" cy="177.80" r="2.0" fill="#6cc0c0"/>
<circle cx="519.40" cy="189.80" r="2.0" fill="#6cc0c0"/>
<circle cx="522.00" cy="164.40" r="2.0" fill="#6cc0c0"/>
<circle cx="522.00" cy="166.10" r="2.0" fill="#6cc0c0"/>
<text x="450.10" y="165.60" font-size="6.4" fill="#262626">R<tspan font-size="4.61" dy="-2.8">2</tspan><tspan dy="2.8">: 0.53</tspan></text>
<text x="492.40" y="258.10" font-size="8.4" text-anchor="middle" fill="#262626">reference [bpm]</text>
<text transform="translate(427.30 193.10) rotate(-90) scale(1 1.0)" font-size="8.4" text-anchor="middle" fill="#262626">proposed method [bpm]</text>
<text x="147.90" y="269.30" font-size="8.5" text-anchor="middle" fill="#262626">running &#8211; 12 km/h</text>
<text x="404.50" y="269.30" font-size="8.5" text-anchor="middle" fill="#262626">recovery</text>
<line x1="33.60" y1="277.90" x2="33.60" y2="367.50" stroke="#a0a0a0" stroke-width="1"/>
<line x1="33.60" y1="367.50" x2="134.10" y2="367.50" stroke="#a0a0a0" stroke-width="1"/>
<line x1="33.60" y1="367.50" x2="33.60" y2="366.50" stroke="#a0a0a0" stroke-width="1"/>
<text transform="translate(33.60 378.00) scale(1 1.12)" font-size="7.4" text-anchor="middle" fill="#262626">0</text>
<line x1="73.80" y1="367.50" x2="73.80" y2="366.50" stroke="#a0a0a0" stroke-width="1"/>
<text transform="translate(73.80 378.00) scale(1 1.12)" font-size="7.4" text-anchor="middle" fill="#262626">20</text>
<line x1="114.00" y1="367.50" x2="114.00" y2="366.50" stroke="#a0a0a0" stroke-width="1"/>
<text transform="translate(114.00 378.00) scale(1 1.12)" font-size="7.4" text-anchor="middle" fill="#262626">40</text>
<line x1="33.60" y1="367.50" x2="34.60" y2="367.50" stroke="#a0a0a0" stroke-width="1"/>
<text transform="translate(30.60 370.48) scale(1 1.12)" font-size="7.4" text-anchor="end" fill="#262626">-20</text>
<line x1="33.60" y1="345.10" x2="34.60" y2="345.10" stroke="#a0a0a0" stroke-width="1"/>
<text transform="translate(30.60 348.08) scale(1 1.12)" font-size="7.4" text-anchor="end" fill="#262626">-10</text>
<line x1="33.60" y1="322.70" x2="34.60" y2="322.70" stroke="#a0a0a0" stroke-width="1"/>
<text transform="translate(30.60 325.68) scale(1 1.12)" font-size="7.4" text-anchor="end" fill="#262626">0</text>
<line x1="33.60" y1="300.30" x2="34.60" y2="300.30" stroke="#a0a0a0" stroke-width="1"/>
<text transform="translate(30.60 303.28) scale(1 1.12)" font-size="7.4" text-anchor="end" fill="#262626">10</text>
<line x1="33.60" y1="277.90" x2="34.60" y2="277.90" stroke="#a0a0a0" stroke-width="1"/>
<text transform="translate(30.60 280.88) scale(1 1.12)" font-size="7.4" text-anchor="end" fill="#262626">20</text>
<line x1="33.60" y1="307.20" x2="134.10" y2="307.20" stroke="#bdbdbd" stroke-width="0.8" stroke-dasharray="1 1.6"/>
<line x1="33.60" y1="347.21" x2="134.10" y2="347.21" stroke="#bdbdbd" stroke-width="0.8" stroke-dasharray="1 1.6"/>
<line x1="33.60" y1="327.20" x2="134.10" y2="327.20" stroke="#a8a8a8" stroke-width="1.2"/>
<circle cx="89.60" cy="296.50" r="1.9" fill="#e3607a"/>
<circle cx="99.90" cy="300.90" r="1.9" fill="#e3607a"/>
<circle cx="91.70" cy="310.00" r="1.9" fill="#d066f0"/>
<circle cx="91.20" cy="319.40" r="1.9" fill="#d066f0"/>
<circle cx="89.30" cy="323.80" r="1.9" fill="#d066f0"/>
<circle cx="95.80" cy="319.00" r="1.9" fill="#e27070"/>
<circle cx="103.70" cy="318.60" r="1.9" fill="#e38a48"/>
<circle cx="106.00" cy="323.10" r="1.9" fill="#b2d03a"/>
<circle cx="110.20" cy="322.60" r="1.9" fill="#48c858"/>
<circle cx="99.40" cy="327.90" r="1.9" fill="#e3607a"/>
<circle cx="103.70" cy="327.90" r="1.9" fill="#48c858"/>
<circle cx="101.60" cy="332.50" r="1.9" fill="#e38a48"/>
<circle cx="99.40" cy="337.00" r="1.9" fill="#a2d28f"/>
<circle cx="93.40" cy="342.00" r="1.9" fill="#a2d28f"/>
<circle cx="101.60" cy="341.50" r="1.9" fill="#48c858"/>
<circle cx="91.20" cy="355.90" r="1.9" fill="#a2d28f"/>
<circle cx="114.20" cy="331.60" r="1.9" fill="#e0b045"/>
<circle cx="118.40" cy="331.30" r="1.9" fill="#5593e2"/>
<circle cx="118.40" cy="322.30" r="1.9" fill="#b2d03a"/>
<circle cx="122.50" cy="322.30" r="1.9" fill="#b2d03a"/>
<circle cx="120.40" cy="317.70" r="1.9" fill="#e0b045"/>
<circle cx="124.50" cy="317.40" r="1.9" fill="#5a55d2"/>
<circle cx="126.60" cy="312.80" r="1.9" fill="#e0b045"/>
<circle cx="124.50" cy="335.40" r="1.9" fill="#5a55d2"/>
<text x="39.20" y="288.00" font-size="6.4" text-anchor="start" fill="#262626">MOD: -2.01 [bpm]</text>
<text x="39.20" y="296.10" font-size="6.4" text-anchor="start" fill="#262626">LOAs: 8.93 [bpm]</text>
<text x="83.85" y="387.70" font-size="8.4" text-anchor="middle" fill="#262626">mean f<tspan font-size="6.72" dy="3">R</tspan><tspan dy="-3" dx="0.6"> [bpm]</tspan></text>
<text x="14.00" y="322.70" font-size="8.4" text-anchor="middle" fill="#262626" transform="rotate(-90 14.00 322.70)">&#916;<tspan dx="1.6"> f</tspan><tspan font-size="6.72" dy="3">R</tspan><tspan dy="-3" dx="0.6"> [bpm]</tspan></text>
<line x1="166.70" y1="277.90" x2="166.70" y2="367.50" stroke="#a0a0a0" stroke-width="1"/>
<line x1="166.70" y1="367.50" x2="266.90" y2="367.50" stroke="#a0a0a0" stroke-width="1"/>
<line x1="193.45" y1="367.50" x2="193.45" y2="366.50" stroke="#a0a0a0" stroke-width="1"/>
<text transform="translate(193.45 378.00) scale(1 1.12)" font-size="7.4" text-anchor="middle" fill="#262626">30</text>
<line x1="227.61" y1="367.50" x2="227.61" y2="366.50" stroke="#a0a0a0" stroke-width="1"/>
<text transform="translate(227.61 378.00) scale(1 1.12)" font-size="7.4" text-anchor="middle" fill="#262626">40</text>
<line x1="261.78" y1="367.50" x2="261.78" y2="366.50" stroke="#a0a0a0" stroke-width="1"/>
<text transform="translate(261.78 378.00) scale(1 1.12)" font-size="7.4" text-anchor="middle" fill="#262626">50</text>
<line x1="166.70" y1="358.21" x2="167.70" y2="358.21" stroke="#a0a0a0" stroke-width="1"/>
<text transform="translate(163.70 361.19) scale(1 1.12)" font-size="7.4" text-anchor="end" fill="#262626">25</text>
<line x1="166.70" y1="343.23" x2="167.70" y2="343.23" stroke="#a0a0a0" stroke-width="1"/>
<text transform="translate(163.70 346.21) scale(1 1.12)" font-size="7.4" text-anchor="end" fill="#262626">30</text>
<line x1="166.70" y1="328.24" x2="167.70" y2="328.24" stroke="#a0a0a0" stroke-width="1"/>
<text transform="translate(163.70 331.23) scale(1 1.12)" font-size="7.4" text-anchor="end" fill="#262626">35</text>
<line x1="166.70" y1="313.26" x2="167.70" y2="313.26" stroke="#a0a0a0" stroke-width="1"/>
<text transform="translate(163.70 316.24) scale(1 1.12)" font-size="7.4" text-anchor="end" fill="#262626">40</text>
<line x1="166.70" y1="298.28" x2="167.70" y2="298.28" stroke="#a0a0a0" stroke-width="1"/>
<text transform="translate(163.70 301.26) scale(1 1.12)" font-size="7.4" text-anchor="end" fill="#262626">45</text>
<line x1="166.70" y1="283.29" x2="167.70" y2="283.29" stroke="#a0a0a0" stroke-width="1"/>
<text transform="translate(163.70 286.28) scale(1 1.12)" font-size="7.4" text-anchor="end" fill="#262626">50</text>
<line x1="166.70" y1="366.69" x2="266.90" y2="278.80" stroke="#dedede" stroke-width="0.6" stroke-dasharray="1 1.5"/>
<line x1="166.70" y1="360.40" x2="266.80" y2="296.80" stroke="#686868" stroke-width="1.05"/>
<circle cx="183.30" cy="329.10" r="2.0" fill="#6cc0c0"/>
<circle cx="183.80" cy="344.40" r="2.0" fill="#6cc0c0"/>
<circle cx="186.30" cy="331.70" r="2.0" fill="#6cc0c0"/>
<circle cx="188.30" cy="336.20" r="2.0" fill="#6cc0c0"/>
<circle cx="190.90" cy="336.20" r="2.0" fill="#6cc0c0"/>
<circle cx="190.90" cy="342.10" r="2.0" fill="#6cc0c0"/>
<circle cx="192.90" cy="337.50" r="2.0" fill="#6cc0c0"/>
<circle cx="190.90" cy="359.10" r="2.0" fill="#6cc0c0"/>
<circle cx="195.50" cy="348.50" r="2.0" fill="#6cc0c0"/>
<circle cx="198.00" cy="346.90" r="2.0" fill="#6cc0c0"/>
<circle cx="204.10" cy="352.80" r="2.0" fill="#6cc0c0"/>
<circle cx="204.10" cy="356.60" r="2.0" fill="#6cc0c0"/>
<circle cx="210.70" cy="357.10" r="2.0" fill="#6cc0c0"/>
<circle cx="209.20" cy="336.20" r="2.0" fill="#6cc0c0"/>
<circle cx="218.40" cy="331.90" r="2.0" fill="#6cc0c0"/>
<circle cx="220.40" cy="338.30" r="2.0" fill="#6cc0c0"/>
<circle cx="218.40" cy="319.20" r="2.0" fill="#6cc0c0"/>
<circle cx="222.70" cy="317.20" r="2.0" fill="#6cc0c0"/>
<circle cx="229.10" cy="321.50" r="2.0" fill="#6cc0c0"/>
<circle cx="229.10" cy="310.80" r="2.0" fill="#6cc0c0"/>
<circle cx="229.10" cy="307.00" r="2.0" fill="#6cc0c0"/>
<circle cx="235.40" cy="307.00" r="2.0" fill="#6cc0c0"/>
<circle cx="236.70" cy="303.20" r="2.0" fill="#6cc0c0"/>
<circle cx="238.00" cy="301.10" r="2.0" fill="#6cc0c0"/>
<circle cx="238.00" cy="305.20" r="2.0" fill="#6cc0c0"/>
<circle cx="244.80" cy="319.20" r="2.0" fill="#6cc0c0"/>
<circle cx="243.10" cy="323.50" r="2.0" fill="#6cc0c0"/>
<circle cx="247.40" cy="301.10" r="2.0" fill="#6cc0c0"/>
<circle cx="249.40" cy="321.50" r="2.0" fill="#6cc0c0"/>
<text x="173.00" y="293.90" font-size="6.4" fill="#262626">R<tspan font-size="4.61" dy="-2.8">2</tspan><tspan dy="2.8">: 0.54</tspan></text>
<text x="216.80" y="387.70" font-size="8.4" text-anchor="middle" fill="#262626">reference [bpm]</text>
<text transform="translate(151.70 322.70) rotate(-90) scale(1 1.0)" font-size="8.4" text-anchor="middle" fill="#262626">proposed method [bpm]</text>
<line x1="309.60" y1="277.90" x2="309.60" y2="367.50" stroke="#a0a0a0" stroke-width="1"/>
<line x1="309.60" y1="367.50" x2="410.10" y2="367.50" stroke="#a0a0a0" stroke-width="1"/>
<line x1="309.60" y1="367.50" x2="309.60" y2="366.50" stroke="#a0a0a0" stroke-width="1"/>
<text transform="translate(309.60 378.00) scale(1 1.12)" font-size="7.4" text-anchor="middle" fill="#262626">0</text>
<line x1="349.80" y1="367.50" x2="349.80" y2="366.50" stroke="#a0a0a0" stroke-width="1"/>
<text transform="translate(349.80 378.00) scale(1 1.12)" font-size="7.4" text-anchor="middle" fill="#262626">20</text>
<line x1="390.00" y1="367.50" x2="390.00" y2="366.50" stroke="#a0a0a0" stroke-width="1"/>
<text transform="translate(390.00 378.00) scale(1 1.12)" font-size="7.4" text-anchor="middle" fill="#262626">40</text>
<line x1="309.60" y1="367.50" x2="310.60" y2="367.50" stroke="#a0a0a0" stroke-width="1"/>
<text transform="translate(306.60 370.48) scale(1 1.12)" font-size="7.4" text-anchor="end" fill="#262626">-20</text>
<line x1="309.60" y1="345.10" x2="310.60" y2="345.10" stroke="#a0a0a0" stroke-width="1"/>
<text transform="translate(306.60 348.08) scale(1 1.12)" font-size="7.4" text-anchor="end" fill="#262626">-10</text>
<line x1="309.60" y1="322.70" x2="310.60" y2="322.70" stroke="#a0a0a0" stroke-width="1"/>
<text transform="translate(306.60 325.68) scale(1 1.12)" font-size="7.4" text-anchor="end" fill="#262626">0</text>
<line x1="309.60" y1="300.30" x2="310.60" y2="300.30" stroke="#a0a0a0" stroke-width="1"/>
<text transform="translate(306.60 303.28) scale(1 1.12)" font-size="7.4" text-anchor="end" fill="#262626">10</text>
<line x1="309.60" y1="277.90" x2="310.60" y2="277.90" stroke="#a0a0a0" stroke-width="1"/>
<text transform="translate(306.60 280.88) scale(1 1.12)" font-size="7.4" text-anchor="end" fill="#262626">20</text>
<line x1="309.60" y1="316.65" x2="410.10" y2="316.65" stroke="#bdbdbd" stroke-width="0.8" stroke-dasharray="1 1.6"/>
<line x1="309.60" y1="329.64" x2="410.10" y2="329.64" stroke="#bdbdbd" stroke-width="0.8" stroke-dasharray="1 1.6"/>
<line x1="309.60" y1="323.15" x2="410.10" y2="323.15" stroke="#a8a8a8" stroke-width="1.2"/>
<circle cx="343.60" cy="317.60" r="1.9" fill="#5593e2"/>
<circle cx="349.20" cy="315.50" r="1.9" fill="#a2d28f"/>
<circle cx="347.50" cy="317.40" r="1.9" fill="#b2d03a"/>
<circle cx="342.90" cy="319.80" r="1.9" fill="#e3607a"/>
<circle cx="341.50" cy="322.40" r="1.9" fill="#d066f0"/>
<circle cx="344.50" cy="324.90" r="1.9" fill="#d066f0"/>
<circle cx="345.50" cy="322.00" r="1.9" fill="#e38a48"/>
<circle cx="347.00" cy="320.20" r="1.9" fill="#5593e2"/>
<circle cx="349.20" cy="322.70" r="1.9" fill="#e3607a"/>
<circle cx="350.50" cy="320.20" r="1.9" fill="#b2d03a"/>
<circle cx="348.50" cy="324.90" r="1.9" fill="#48c858"/>
<circle cx="352.50" cy="324.90" r="1.9" fill="#48c858"/>
<circle cx="353.80" cy="322.00" r="1.9" fill="#a2d28f"/>
<circle cx="350.40" cy="329.10" r="1.9" fill="#e38a48"/>
<circle cx="354.60" cy="329.10" r="1.9" fill="#e38a48"/>
<circle cx="353.50" cy="331.70" r="1.9" fill="#e0b045"/>
<circle cx="359.70" cy="317.60" r="1.9" fill="#5593e2"/>
<circle cx="363.90" cy="317.60" r="1.9" fill="#5a55d2"/>
<circle cx="366.10" cy="322.40" r="1.9" fill="#5a55d2"/>
<circle cx="361.50" cy="322.00" r="1.9" fill="#a2d28f"/>
<circle cx="360.80" cy="324.50" r="1.9" fill="#b2d03a"/>
<circle cx="359.70" cy="327.10" r="1.9" fill="#e0b045"/>
<circle cx="358.60" cy="338.00" r="1.9" fill="#48c858"/>
<text x="315.20" y="288.00" font-size="6.4" text-anchor="start" fill="#262626">MOD: -0.2 [bpm]</text>
<text x="315.20" y="296.10" font-size="6.4" text-anchor="start" fill="#262626">LOAs: 2.9 [bpm]</text>
<text x="359.85" y="387.70" font-size="8.4" text-anchor="middle" fill="#262626">mean f<tspan font-size="6.72" dy="3">R</tspan><tspan dy="-3" dx="0.6"> [bpm]</tspan></text>
<text x="290.00" y="322.70" font-size="8.4" text-anchor="middle" fill="#262626" transform="rotate(-90 290.00 322.70)">&#916;<tspan dx="1.6"> f</tspan><tspan font-size="6.72" dy="3">R</tspan><tspan dy="-3" dx="0.6"> [bpm]</tspan></text>
<line x1="442.30" y1="277.90" x2="442.30" y2="367.50" stroke="#a0a0a0" stroke-width="1"/>
<line x1="442.30" y1="367.50" x2="542.50" y2="367.50" stroke="#a0a0a0" stroke-width="1"/>
<line x1="458.32" y1="367.50" x2="458.32" y2="366.50" stroke="#a0a0a0" stroke-width="1"/>
<text transform="translate(458.32 378.00) scale(1 1.12)" font-size="7.4" text-anchor="middle" fill="#262626">15</text>
<line x1="482.37" y1="367.50" x2="482.37" y2="366.50" stroke="#a0a0a0" stroke-width="1"/>
<text transform="translate(482.37 378.00) scale(1 1.12)" font-size="7.4" text-anchor="middle" fill="#262626">20</text>
<line x1="506.42" y1="367.50" x2="506.42" y2="366.50" stroke="#a0a0a0" stroke-width="1"/>
<text transform="translate(506.42 378.00) scale(1 1.12)" font-size="7.4" text-anchor="middle" fill="#262626">25</text>
<line x1="530.47" y1="367.50" x2="530.47" y2="366.50" stroke="#a0a0a0" stroke-width="1"/>
<text transform="translate(530.47 378.00) scale(1 1.12)" font-size="7.4" text-anchor="middle" fill="#262626">30</text>
<line x1="442.30" y1="352.85" x2="443.30" y2="352.85" stroke="#a0a0a0" stroke-width="1"/>
<text transform="translate(439.30 355.84) scale(1 1.12)" font-size="7.4" text-anchor="end" fill="#262626">15</text>
<line x1="442.30" y1="331.32" x2="443.30" y2="331.32" stroke="#a0a0a0" stroke-width="1"/>
<text transform="translate(439.30 334.30) scale(1 1.12)" font-size="7.4" text-anchor="end" fill="#262626">20</text>
<line x1="442.30" y1="309.78" x2="443.30" y2="309.78" stroke="#a0a0a0" stroke-width="1"/>
<text transform="translate(439.30 312.76) scale(1 1.12)" font-size="7.4" text-anchor="end" fill="#262626">25</text>
<line x1="442.30" y1="288.24" x2="443.30" y2="288.24" stroke="#a0a0a0" stroke-width="1"/>
<text transform="translate(439.30 291.22) scale(1 1.12)" font-size="7.4" text-anchor="end" fill="#262626">30</text>
<line x1="442.30" y1="367.20" x2="542.02" y2="277.90" stroke="#dedede" stroke-width="0.6" stroke-dasharray="1 1.5"/>
<line x1="442.30" y1="363.10" x2="542.30" y2="284.40" stroke="#686868" stroke-width="1.05"/>
<circle cx="466.00" cy="344.80" r="2.0" fill="#6cc0c0"/>
<circle cx="469.00" cy="340.20" r="2.0" fill="#6cc0c0"/>
<circle cx="471.10" cy="338.50" r="2.0" fill="#6cc0c0"/>
<circle cx="474.10" cy="337.70" r="2.0" fill="#6cc0c0"/>
<circle cx="476.70" cy="339.50" r="2.0" fill="#6cc0c0"/>
<circle cx="476.70" cy="333.90" r="2.0" fill="#6cc0c0"/>
<circle cx="478.70" cy="333.40" r="2.0" fill="#6cc0c0"/>
<circle cx="479.20" cy="323.20" r="2.0" fill="#6cc0c0"/>
<circle cx="479.20" cy="325.70" r="2.0" fill="#6cc0c0"/>
<circle cx="479.20" cy="336.40" r="2.0" fill="#6cc0c0"/>
<circle cx="482.50" cy="329.60" r="2.0" fill="#6cc0c0"/>
<circle cx="482.50" cy="335.20" r="2.0" fill="#6cc0c0"/>
<circle cx="488.90" cy="318.10" r="2.0" fill="#6cc0c0"/>
<circle cx="488.90" cy="323.20" r="2.0" fill="#6cc0c0"/>
<circle cx="488.90" cy="325.70" r="2.0" fill="#6cc0c0"/>
<circle cx="491.90" cy="318.10" r="2.0" fill="#6cc0c0"/>
<circle cx="491.90" cy="321.70" r="2.0" fill="#6cc0c0"/>
<circle cx="488.90" cy="333.40" r="2.0" fill="#6cc0c0"/>
<circle cx="491.90" cy="333.40" r="2.0" fill="#6cc0c0"/>
<circle cx="491.90" cy="328.80" r="2.0" fill="#6cc0c0"/>
<circle cx="495.20" cy="327.50" r="2.0" fill="#6cc0c0"/>
<circle cx="497.80" cy="329.30" r="2.0" fill="#6cc0c0"/>
<circle cx="497.80" cy="331.80" r="2.0" fill="#6cc0c0"/>
<circle cx="504.90" cy="307.90" r="2.0" fill="#6cc0c0"/>
<circle cx="516.40" cy="296.50" r="2.0" fill="#6cc0c0"/>
<circle cx="518.90" cy="296.50" r="2.0" fill="#6cc0c0"/>
<text x="451.90" y="299.00" font-size="6.4" fill="#262626">R<tspan font-size="4.61" dy="-2.8">2</tspan><tspan dy="2.8">: 0.71</tspan></text>
<text x="492.40" y="387.70" font-size="8.4" text-anchor="middle" fill="#262626">reference [bpm]</text>
<text transform="translate(427.30 322.70) rotate(-90) scale(1 1.0)" font-size="8.4" text-anchor="middle" fill="#262626">proposed method [bpm]</text>
<text x="295.70" y="408.90" font-size="8.4" text-anchor="middle" fill="#262626">Overall</text>
<rect x="15.5" y="415" width="66" height="64" fill="#ffffff" stroke="#b0b0b0" stroke-width="0.7"/>
<circle cx="25.40" cy="419.40" r="1.2" fill="#1a7fa0"/>
<text x="34.30" y="421.40" font-size="5.8" text-anchor="start" fill="#262626">rest pre-exercise</text>
<circle cx="25.40" cy="426.33" r="1.2" fill="#c49a62"/>
<text x="34.30" y="428.33" font-size="5.8" text-anchor="start" fill="#262626">walking - 3 km/h</text>
<circle cx="25.40" cy="433.26" r="1.2" fill="#f2b01e"/>
<text x="34.30" y="435.26" font-size="5.8" text-anchor="start" fill="#262626">walking - 6 km/h</text>
<circle cx="25.40" cy="440.19" r="1.2" fill="#3d7a48"/>
<text x="34.30" y="442.19" font-size="5.8" text-anchor="start" fill="#262626">running - 9 km/h</text>
<circle cx="25.40" cy="447.12" r="1.2" fill="#68c0c0"/>
<text x="34.30" y="449.12" font-size="5.8" text-anchor="start" fill="#262626">running - 12 km/h</text>
<circle cx="25.40" cy="454.05" r="1.2" fill="#d27c88"/>
<text x="34.30" y="456.05" font-size="5.8" text-anchor="start" fill="#262626">recovery</text>
<line x1="18.00" y1="461.00" x2="32.50" y2="461.00" stroke="#b8b8b8" stroke-width="0.8"/>
<text x="34.30" y="463.00" font-size="5.8" text-anchor="start" fill="#262626">MOD</text>
<line x1="18.00" y1="467.95" x2="32.50" y2="467.95" stroke="#d8d8d8" stroke-width="0.8" stroke-dasharray="1 1"/>
<text x="34.30" y="469.95" font-size="5.8" text-anchor="start" fill="#262626">LOA1</text>
<line x1="18.00" y1="474.90" x2="32.50" y2="474.90" stroke="#d8d8d8" stroke-width="0.8" stroke-dasharray="1 1"/>
<text x="34.30" y="476.90" font-size="5.8" text-anchor="start" fill="#262626">LOA2</text>
<line x1="112.60" y1="416.50" x2="112.60" y2="489.00" stroke="#a0a0a0" stroke-width="1"/>
<line x1="112.60" y1="489.00" x2="272.00" y2="489.00" stroke="#a0a0a0" stroke-width="1"/>
<line x1="112.60" y1="489.00" x2="112.60" y2="488.00" stroke="#a0a0a0" stroke-width="1"/>
<text transform="translate(112.60 497.70) scale(1 1.12)" font-size="6.5" text-anchor="middle" fill="#262626">0</text>
<line x1="144.48" y1="489.00" x2="144.48" y2="488.00" stroke="#a0a0a0" stroke-width="1"/>
<text transform="translate(144.48 497.70) scale(1 1.12)" font-size="6.5" text-anchor="middle" fill="#262626">10</text>
<line x1="176.36" y1="489.00" x2="176.36" y2="488.00" stroke="#a0a0a0" stroke-width="1"/>
<text transform="translate(176.36 497.70) scale(1 1.12)" font-size="6.5" text-anchor="middle" fill="#262626">20</text>
<line x1="208.24" y1="489.00" x2="208.24" y2="488.00" stroke="#a0a0a0" stroke-width="1"/>
<text transform="translate(208.24 497.70) scale(1 1.12)" font-size="6.5" text-anchor="middle" fill="#262626">30</text>
<line x1="240.12" y1="489.00" x2="240.12" y2="488.00" stroke="#a0a0a0" stroke-width="1"/>
<text transform="translate(240.12 497.70) scale(1 1.12)" font-size="6.5" text-anchor="middle" fill="#262626">40</text>
<line x1="272.00" y1="489.00" x2="272.00" y2="488.00" stroke="#a0a0a0" stroke-width="1"/>
<text transform="translate(272.00 497.70) scale(1 1.12)" font-size="6.5" text-anchor="middle" fill="#262626">50</text>
<line x1="112.60" y1="489.00" x2="113.60" y2="489.00" stroke="#a0a0a0" stroke-width="1"/>
<text transform="translate(110.20 491.62) scale(1 1.12)" font-size="6.5" text-anchor="end" fill="#262626">-20</text>
<line x1="112.60" y1="470.88" x2="113.60" y2="470.88" stroke="#a0a0a0" stroke-width="1"/>
<text transform="translate(110.20 473.50) scale(1 1.12)" font-size="6.5" text-anchor="end" fill="#262626">-10</text>
<line x1="112.60" y1="452.75" x2="113.60" y2="452.75" stroke="#a0a0a0" stroke-width="1"/>
<text transform="translate(110.20 455.37) scale(1 1.12)" font-size="6.5" text-anchor="end" fill="#262626">0</text>
<line x1="112.60" y1="434.62" x2="113.60" y2="434.62" stroke="#a0a0a0" stroke-width="1"/>
<text transform="translate(110.20 437.25) scale(1 1.12)" font-size="6.5" text-anchor="end" fill="#262626">10</text>
<line x1="112.60" y1="416.50" x2="113.60" y2="416.50" stroke="#a0a0a0" stroke-width="1"/>
<text transform="translate(110.20 419.12) scale(1 1.12)" font-size="6.5" text-anchor="end" fill="#262626">20</text>
<line x1="112.60" y1="444.00" x2="272.00" y2="444.00" stroke="#c8c8c8" stroke-width="0.7" stroke-dasharray="0.8 1.4"/>
<line x1="112.60" y1="462.37" x2="272.00" y2="462.37" stroke="#c8c8c8" stroke-width="0.7" stroke-dasharray="0.8 1.4"/>
<line x1="112.60" y1="453.19" x2="272.00" y2="453.19" stroke="#a8a8a8" stroke-width="0.8"/>
<circle cx="139.54" cy="451.46" r="1.3" fill="#1a7fa0"/>
<circle cx="140.81" cy="450.06" r="1.3" fill="#1a7fa0"/>
<circle cx="142.09" cy="448.66" r="1.3" fill="#1a7fa0"/>
<circle cx="143.36" cy="447.26" r="1.3" fill="#1a7fa0"/>
<circle cx="140.81" cy="456.55" r="1.3" fill="#1a7fa0"/>
<circle cx="142.30" cy="455.15" r="1.3" fill="#1a7fa0"/>
<circle cx="143.78" cy="453.75" r="1.3" fill="#1a7fa0"/>
<circle cx="145.27" cy="452.35" r="1.3" fill="#1a7fa0"/>
<circle cx="145.01" cy="452.74" r="1.3" fill="#c49a62"/>
<circle cx="146.16" cy="451.34" r="1.3" fill="#c49a62"/>
<circle cx="147.30" cy="449.94" r="1.3" fill="#c49a62"/>
<circle cx="148.45" cy="448.54" r="1.3" fill="#c49a62"/>
<circle cx="150.36" cy="460.62" r="1.3" fill="#c49a62"/>
<circle cx="151.95" cy="459.03" r="1.3" fill="#c49a62"/>
<circle cx="153.54" cy="457.44" r="1.3" fill="#c49a62"/>
<circle cx="154.17" cy="456.81" r="1.3" fill="#f2b01e"/>
<circle cx="155.44" cy="455.41" r="1.3" fill="#f2b01e"/>
<circle cx="156.71" cy="454.01" r="1.3" fill="#f2b01e"/>
<circle cx="157.99" cy="452.61" r="1.3" fill="#f2b01e"/>
<circle cx="159.26" cy="451.21" r="1.3" fill="#f2b01e"/>
<circle cx="160.53" cy="449.81" r="1.3" fill="#f2b01e"/>
<circle cx="161.17" cy="448.54" r="1.3" fill="#c49a62"/>
<circle cx="163.08" cy="446.88" r="1.3" fill="#c49a62"/>
<circle cx="163.33" cy="452.99" r="1.3" fill="#d27c88"/>
<circle cx="164.94" cy="451.51" r="1.3" fill="#d27c88"/>
<circle cx="166.56" cy="450.02" r="1.3" fill="#d27c88"/>
<circle cx="168.17" cy="448.54" r="1.3" fill="#d27c88"/>
<circle cx="168.17" cy="447.90" r="1.3" fill="#f2b01e"/>
<circle cx="169.76" cy="446.31" r="1.3" fill="#f2b01e"/>
<circle cx="171.35" cy="444.72" r="1.3" fill="#f2b01e"/>
<circle cx="168.17" cy="454.90" r="1.3" fill="#d27c88"/>
<circle cx="169.70" cy="453.30" r="1.3" fill="#d27c88"/>
<circle cx="171.22" cy="451.69" r="1.3" fill="#d27c88"/>
<circle cx="172.75" cy="450.09" r="1.3" fill="#d27c88"/>
<circle cx="174.27" cy="448.48" r="1.3" fill="#d27c88"/>
<circle cx="175.80" cy="446.88" r="1.3" fill="#d27c88"/>
<circle cx="173.89" cy="457.44" r="1.3" fill="#d27c88"/>
<circle cx="175.16" cy="455.85" r="1.3" fill="#d27c88"/>
<circle cx="176.44" cy="454.26" r="1.3" fill="#d27c88"/>
<circle cx="177.71" cy="452.67" r="1.3" fill="#d27c88"/>
<circle cx="178.98" cy="451.08" r="1.3" fill="#d27c88"/>
<circle cx="178.35" cy="458.72" r="1.3" fill="#d27c88"/>
<circle cx="179.94" cy="457.13" r="1.3" fill="#d27c88"/>
<circle cx="181.53" cy="455.54" r="1.3" fill="#d27c88"/>
<circle cx="183.12" cy="453.94" r="1.3" fill="#d27c88"/>
<circle cx="184.71" cy="452.35" r="1.3" fill="#d27c88"/>
<circle cx="182.16" cy="459.99" r="1.3" fill="#d27c88"/>
<circle cx="183.65" cy="458.29" r="1.3" fill="#d27c88"/>
<circle cx="185.13" cy="456.60" r="1.3" fill="#d27c88"/>
<circle cx="186.62" cy="454.90" r="1.3" fill="#d27c88"/>
<circle cx="183.44" cy="452.35" r="1.3" fill="#f2b01e"/>
<circle cx="184.71" cy="450.98" r="1.3" fill="#f2b01e"/>
<circle cx="185.98" cy="449.62" r="1.3" fill="#f2b01e"/>
<circle cx="187.25" cy="448.25" r="1.3" fill="#f2b01e"/>
<circle cx="188.52" cy="446.88" r="1.3" fill="#f2b01e"/>
<circle cx="187.89" cy="455.53" r="1.3" fill="#d27c88"/>
<circle cx="189.37" cy="454.26" r="1.3" fill="#d27c88"/>
<circle cx="190.86" cy="452.99" r="1.3" fill="#d27c88"/>
<circle cx="192.34" cy="451.71" r="1.3" fill="#d27c88"/>
<circle cx="193.82" cy="450.44" r="1.3" fill="#d27c88"/>
<circle cx="195.31" cy="449.17" r="1.3" fill="#d27c88"/>
<circle cx="196.79" cy="447.90" r="1.3" fill="#d27c88"/>
<circle cx="147.81" cy="456.17" r="1.35" fill="#f2b01e"/>
<circle cx="150.61" cy="452.74" r="1.35" fill="#1a7fa0"/>
<circle cx="153.92" cy="448.92" r="1.35" fill="#1a7fa0"/>
<circle cx="156.08" cy="440.01" r="1.35" fill="#c49a62"/>
<circle cx="156.08" cy="447.65" r="1.35" fill="#c49a62"/>
<circle cx="152.65" cy="465.97" r="1.35" fill="#f2b01e"/>
<circle cx="159.01" cy="458.33" r="1.35" fill="#f2b01e"/>
<circle cx="162.44" cy="454.90" r="1.35" fill="#1a7fa0"/>
<circle cx="166.90" cy="456.55" r="1.35" fill="#3d7a48"/>
<circle cx="171.35" cy="458.33" r="1.35" fill="#c49a62"/>
<circle cx="173.26" cy="456.55" r="1.35" fill="#3d7a48"/>
<circle cx="168.80" cy="462.15" r="1.35" fill="#1a7fa0"/>
<circle cx="179.62" cy="456.17" r="1.35" fill="#1a7fa0"/>
<circle cx="185.98" cy="441.54" r="1.35" fill="#3d7a48"/>
<circle cx="185.98" cy="449.17" r="1.35" fill="#3d7a48"/>
<circle cx="185.98" cy="456.55" r="1.35" fill="#3d7a48"/>
<circle cx="191.07" cy="458.33" r="1.35" fill="#f2b01e"/>
<circle cx="194.25" cy="447.65" r="1.35" fill="#f2b01e"/>
<circle cx="197.43" cy="458.33" r="1.35" fill="#f2b01e"/>
<circle cx="191.07" cy="465.71" r="1.35" fill="#d27c88"/>
<circle cx="195.52" cy="445.36" r="1.35" fill="#3d7a48"/>
<circle cx="195.52" cy="459.99" r="1.35" fill="#3d7a48"/>
<circle cx="195.52" cy="474.62" r="1.35" fill="#3d7a48"/>
<circle cx="198.70" cy="441.54" r="1.35" fill="#3d7a48"/>
<circle cx="198.70" cy="449.17" r="1.35" fill="#d27c88"/>
<circle cx="202.30" cy="445.10" r="1.35" fill="#3d7a48"/>
<circle cx="202.30" cy="460.10" r="1.35" fill="#3d7a48"/>
<circle cx="208.60" cy="452.80" r="1.35" fill="#3d7a48"/>
<circle cx="211.70" cy="442.10" r="1.35" fill="#3d7a48"/>
<circle cx="215.10" cy="445.50" r="1.35" fill="#3d7a48"/>
<circle cx="208.40" cy="452.70" r="1.35" fill="#3d7a48"/>
<circle cx="221.50" cy="452.70" r="1.35" fill="#3d7a48"/>
<circle cx="224.80" cy="449.10" r="1.35" fill="#3d7a48"/>
<circle cx="211.70" cy="456.70" r="1.35" fill="#3d7a48"/>
<circle cx="202.30" cy="460.40" r="1.35" fill="#3d7a48"/>
<circle cx="215.10" cy="460.40" r="1.35" fill="#3d7a48"/>
<circle cx="202.30" cy="452.80" r="1.35" fill="#d27c88"/>
<circle cx="201.50" cy="431.30" r="1.35" fill="#68c0c0"/>
<circle cx="218.00" cy="435.00" r="1.35" fill="#68c0c0"/>
<circle cx="204.50" cy="442.50" r="1.35" fill="#68c0c0"/>
<circle cx="204.50" cy="450.30" r="1.35" fill="#68c0c0"/>
<circle cx="201.50" cy="454.20" r="1.35" fill="#68c0c0"/>
<circle cx="211.00" cy="450.30" r="1.35" fill="#68c0c0"/>
<circle cx="224.80" cy="449.10" r="1.35" fill="#68c0c0"/>
<circle cx="227.30" cy="453.50" r="1.35" fill="#68c0c0"/>
<circle cx="234.00" cy="453.20" r="1.35" fill="#68c0c0"/>
<circle cx="217.50" cy="457.10" r="1.35" fill="#68c0c0"/>
<circle cx="224.10" cy="457.50" r="1.35" fill="#68c0c0"/>
<circle cx="220.90" cy="461.20" r="1.35" fill="#68c0c0"/>
<circle cx="217.10" cy="464.80" r="1.35" fill="#68c0c0"/>
<circle cx="220.50" cy="468.40" r="1.35" fill="#68c0c0"/>
<circle cx="207.40" cy="469.00" r="1.35" fill="#68c0c0"/>
<circle cx="203.70" cy="480.10" r="1.35" fill="#68c0c0"/>
<circle cx="240.40" cy="460.40" r="1.35" fill="#68c0c0"/>
<circle cx="247.10" cy="460.40" r="1.35" fill="#68c0c0"/>
<circle cx="247.10" cy="453.20" r="1.35" fill="#68c0c0"/>
<circle cx="250.60" cy="449.10" r="1.35" fill="#68c0c0"/>
<circle cx="253.90" cy="452.70" r="1.35" fill="#68c0c0"/>
<circle cx="257.30" cy="449.10" r="1.35" fill="#68c0c0"/>
<circle cx="260.50" cy="445.00" r="1.35" fill="#68c0c0"/>
<circle cx="257.30" cy="463.60" r="1.35" fill="#68c0c0"/>
<circle cx="207.30" cy="468.70" r="1.35" fill="#68c0c0"/>
<circle cx="200.90" cy="454.60" r="1.35" fill="#68c0c0"/>
<text x="121.00" y="424.60" font-size="5.3" text-anchor="start" fill="#262626">MOD: -0.24 [bpm]</text>
<text x="121.00" y="431.60" font-size="5.3" text-anchor="start" fill="#262626">LOAs: 5.07 [bpm]</text>
<text x="192.3" y="506.2" font-size="6.8" text-anchor="middle" fill="#262626">mean f<tspan font-size="5.3" dy="2.4">R</tspan><tspan dy="-2.4" dx="0.5"> [bpm]</tspan></text>
<text x="94.6" y="452.6" font-size="6.1" text-anchor="middle" fill="#262626" transform="rotate(-90 94.6 452.6)">&#916;<tspan dx="2.6"> f</tspan><tspan font-size="5" dy="2.2">R</tspan><tspan dy="-2.2" dx="0.4"> [bpm]</tspan></text>
<line x1="323.60" y1="416.40" x2="323.60" y2="489.20" stroke="#a0a0a0" stroke-width="1"/>
<line x1="323.60" y1="489.20" x2="485.30" y2="489.20" stroke="#a0a0a0" stroke-width="1"/>
<line x1="344.94" y1="489.20" x2="344.94" y2="488.20" stroke="#a0a0a0" stroke-width="1"/>
<text transform="translate(344.94 497.90) scale(1 1.12)" font-size="6.5" text-anchor="middle" fill="#262626">10</text>
<line x1="378.44" y1="489.20" x2="378.44" y2="488.20" stroke="#a0a0a0" stroke-width="1"/>
<text transform="translate(378.44 497.90) scale(1 1.12)" font-size="6.5" text-anchor="middle" fill="#262626">20</text>
<line x1="411.94" y1="489.20" x2="411.94" y2="488.20" stroke="#a0a0a0" stroke-width="1"/>
<text transform="translate(411.94 497.90) scale(1 1.12)" font-size="6.5" text-anchor="middle" fill="#262626">30</text>
<line x1="445.44" y1="489.20" x2="445.44" y2="488.20" stroke="#a0a0a0" stroke-width="1"/>
<text transform="translate(445.44 497.90) scale(1 1.12)" font-size="6.5" text-anchor="middle" fill="#262626">40</text>
<line x1="478.94" y1="489.20" x2="478.94" y2="488.20" stroke="#a0a0a0" stroke-width="1"/>
<text transform="translate(478.94 497.90) scale(1 1.12)" font-size="6.5" text-anchor="middle" fill="#262626">50</text>
<line x1="323.60" y1="479.85" x2="324.60" y2="479.85" stroke="#a0a0a0" stroke-width="1"/>
<text transform="translate(321.20 482.47) scale(1 1.12)" font-size="6.5" text-anchor="end" fill="#262626">10</text>
<line x1="323.60" y1="464.52" x2="324.60" y2="464.52" stroke="#a0a0a0" stroke-width="1"/>
<text transform="translate(321.20 467.15) scale(1 1.12)" font-size="6.5" text-anchor="end" fill="#262626">20</text>
<line x1="323.60" y1="449.20" x2="324.60" y2="449.20" stroke="#a0a0a0" stroke-width="1"/>
<text transform="translate(321.20 451.82) scale(1 1.12)" font-size="6.5" text-anchor="end" fill="#262626">30</text>
<line x1="323.60" y1="433.87" x2="324.60" y2="433.87" stroke="#a0a0a0" stroke-width="1"/>
<text transform="translate(321.20 436.49) scale(1 1.12)" font-size="6.5" text-anchor="end" fill="#262626">40</text>
<line x1="323.60" y1="418.55" x2="324.60" y2="418.55" stroke="#a0a0a0" stroke-width="1"/>
<text transform="translate(321.20 421.17) scale(1 1.12)" font-size="6.5" text-anchor="end" fill="#262626">50</text>
<line x1="328.19" y1="487.51" x2="478.94" y2="418.55" stroke="#e8e8e8" stroke-width="0.5" stroke-dasharray="0.8 1.4"/>
<line x1="323.60" y1="486.20" x2="484.50" y2="421.80" stroke="#707070" stroke-width="0.8"/>
<circle cx="370.10" cy="466.27" r="1.6" fill="#6cc0c0"/>
<circle cx="388.97" cy="459.08" r="1.6" fill="#6cc0c0"/>
<circle cx="372.31" cy="466.08" r="1.6" fill="#6cc0c0"/>
<circle cx="359.39" cy="470.04" r="1.6" fill="#6cc0c0"/>
<circle cx="377.20" cy="467.62" r="1.6" fill="#6cc0c0"/>
<circle cx="355.76" cy="470.60" r="1.6" fill="#6cc0c0"/>
<circle cx="355.63" cy="473.20" r="1.6" fill="#6cc0c0"/>
<circle cx="379.74" cy="459.90" r="1.6" fill="#6cc0c0"/>
<circle cx="391.29" cy="461.94" r="1.6" fill="#6cc0c0"/>
<circle cx="378.16" cy="465.95" r="1.6" fill="#6cc0c0"/>
<circle cx="358.30" cy="467.88" r="1.6" fill="#6cc0c0"/>
<circle cx="373.14" cy="462.07" r="1.6" fill="#6cc0c0"/>
<circle cx="359.61" cy="468.47" r="1.6" fill="#6cc0c0"/>
<circle cx="353.20" cy="473.37" r="1.6" fill="#6cc0c0"/>
<circle cx="369.62" cy="468.27" r="1.6" fill="#6cc0c0"/>
<circle cx="372.76" cy="466.44" r="1.6" fill="#6cc0c0"/>
<circle cx="371.99" cy="466.63" r="1.6" fill="#6cc0c0"/>
<circle cx="370.29" cy="464.36" r="1.6" fill="#6cc0c0"/>
<circle cx="391.91" cy="461.71" r="1.6" fill="#6cc0c0"/>
<circle cx="385.61" cy="463.55" r="1.6" fill="#6cc0c0"/>
<circle cx="364.61" cy="466.21" r="1.6" fill="#6cc0c0"/>
<circle cx="363.56" cy="465.67" r="1.6" fill="#6cc0c0"/>
<circle cx="382.65" cy="461.99" r="1.6" fill="#6cc0c0"/>
<circle cx="385.86" cy="460.24" r="1.6" fill="#6cc0c0"/>
<circle cx="390.32" cy="461.64" r="1.6" fill="#6cc0c0"/>
<circle cx="352.02" cy="474.26" r="1.6" fill="#6cc0c0"/>
<circle cx="388.41" cy="459.53" r="1.6" fill="#6cc0c0"/>
<circle cx="391.21" cy="456.79" r="1.6" fill="#6cc0c0"/>
<circle cx="354.92" cy="472.60" r="1.6" fill="#6cc0c0"/>
<circle cx="383.14" cy="460.45" r="1.6" fill="#6cc0c0"/>
<circle cx="355.49" cy="470.87" r="1.6" fill="#6cc0c0"/>
<circle cx="390.56" cy="460.62" r="1.6" fill="#6cc0c0"/>
<circle cx="356.72" cy="469.86" r="1.6" fill="#6cc0c0"/>
<circle cx="356.04" cy="469.23" r="1.6" fill="#6cc0c0"/>
<circle cx="383.88" cy="459.17" r="1.6" fill="#6cc0c0"/>
<circle cx="374.37" cy="464.82" r="1.6" fill="#6cc0c0"/>
<circle cx="359.63" cy="471.13" r="1.6" fill="#6cc0c0"/>
<circle cx="357.24" cy="471.68" r="1.6" fill="#6cc0c0"/>
<circle cx="356.66" cy="470.78" r="1.6" fill="#6cc0c0"/>
<circle cx="360.51" cy="468.19" r="1.6" fill="#6cc0c0"/>
<circle cx="390.84" cy="460.82" r="1.6" fill="#6cc0c0"/>
<circle cx="364.17" cy="470.27" r="1.6" fill="#6cc0c0"/>
<circle cx="360.43" cy="468.92" r="1.6" fill="#6cc0c0"/>
<circle cx="386.18" cy="462.62" r="1.6" fill="#6cc0c0"/>
<circle cx="356.01" cy="473.96" r="1.6" fill="#6cc0c0"/>
<circle cx="360.53" cy="468.12" r="1.6" fill="#6cc0c0"/>
<circle cx="382.91" cy="461.15" r="1.6" fill="#6cc0c0"/>
<circle cx="363.85" cy="465.57" r="1.6" fill="#6cc0c0"/>
<circle cx="355.60" cy="472.07" r="1.6" fill="#6cc0c0"/>
<circle cx="361.72" cy="469.51" r="1.6" fill="#6cc0c0"/>
<circle cx="366.87" cy="466.74" r="1.6" fill="#6cc0c0"/>
<circle cx="390.37" cy="458.21" r="1.6" fill="#6cc0c0"/>
<circle cx="374.98" cy="468.20" r="1.6" fill="#6cc0c0"/>
<circle cx="359.31" cy="468.13" r="1.6" fill="#6cc0c0"/>
<circle cx="388.34" cy="462.96" r="1.6" fill="#6cc0c0"/>
<circle cx="361.98" cy="467.05" r="1.6" fill="#6cc0c0"/>
<circle cx="381.58" cy="467.87" r="1.6" fill="#6cc0c0"/>
<circle cx="359.86" cy="472.23" r="1.6" fill="#6cc0c0"/>
<circle cx="387.29" cy="461.68" r="1.6" fill="#6cc0c0"/>
<circle cx="368.86" cy="463.79" r="1.6" fill="#6cc0c0"/>
<circle cx="353.55" cy="474.79" r="1.6" fill="#6cc0c0"/>
<circle cx="361.54" cy="470.18" r="1.6" fill="#6cc0c0"/>
<circle cx="362.28" cy="470.55" r="1.6" fill="#6cc0c0"/>
<circle cx="375.86" cy="463.31" r="1.6" fill="#6cc0c0"/>
<circle cx="359.02" cy="471.33" r="1.6" fill="#6cc0c0"/>
<circle cx="354.75" cy="470.70" r="1.6" fill="#6cc0c0"/>
<circle cx="374.37" cy="468.06" r="1.6" fill="#6cc0c0"/>
<circle cx="376.57" cy="463.06" r="1.6" fill="#6cc0c0"/>
<circle cx="388.69" cy="456.76" r="1.6" fill="#6cc0c0"/>
<circle cx="352.66" cy="473.49" r="1.6" fill="#6cc0c0"/>
<circle cx="369.83" cy="463.12" r="1.6" fill="#6cc0c0"/>
<circle cx="359.05" cy="469.42" r="1.6" fill="#6cc0c0"/>
<circle cx="374.89" cy="462.16" r="1.6" fill="#6cc0c0"/>
<circle cx="366.49" cy="469.57" r="1.6" fill="#6cc0c0"/>
<circle cx="391.22" cy="459.17" r="1.6" fill="#6cc0c0"/>
<circle cx="379.65" cy="465.31" r="1.6" fill="#6cc0c0"/>
<circle cx="357.61" cy="468.33" r="1.6" fill="#6cc0c0"/>
<circle cx="352.72" cy="474.99" r="1.6" fill="#6cc0c0"/>
<circle cx="380.04" cy="468.86" r="1.6" fill="#6cc0c0"/>
<circle cx="352.85" cy="474.21" r="1.6" fill="#6cc0c0"/>
<circle cx="371.29" cy="467.12" r="1.6" fill="#6cc0c0"/>
<circle cx="364.76" cy="470.77" r="1.6" fill="#6cc0c0"/>
<circle cx="355.01" cy="472.15" r="1.6" fill="#6cc0c0"/>
<circle cx="381.48" cy="467.52" r="1.6" fill="#6cc0c0"/>
<circle cx="381.48" cy="465.57" r="1.6" fill="#6cc0c0"/>
<circle cx="383.73" cy="466.54" r="1.6" fill="#6cc0c0"/>
<circle cx="366.07" cy="468.44" r="1.6" fill="#6cc0c0"/>
<circle cx="388.03" cy="463.73" r="1.6" fill="#6cc0c0"/>
<circle cx="368.69" cy="468.24" r="1.6" fill="#6cc0c0"/>
<circle cx="386.54" cy="461.75" r="1.6" fill="#6cc0c0"/>
<circle cx="377.00" cy="463.90" r="1.6" fill="#6cc0c0"/>
<circle cx="375.31" cy="466.05" r="1.6" fill="#6cc0c0"/>
<circle cx="355.21" cy="472.53" r="1.6" fill="#6cc0c0"/>
<circle cx="391.73" cy="460.80" r="1.6" fill="#6cc0c0"/>
<circle cx="381.13" cy="462.63" r="1.6" fill="#6cc0c0"/>
<circle cx="381.40" cy="464.40" r="1.6" fill="#6cc0c0"/>
<circle cx="369.62" cy="468.24" r="1.6" fill="#6cc0c0"/>
<circle cx="355.35" cy="473.02" r="1.6" fill="#6cc0c0"/>
<circle cx="353.19" cy="473.81" r="1.6" fill="#6cc0c0"/>
<circle cx="371.24" cy="463.75" r="1.6" fill="#6cc0c0"/>
<circle cx="379.93" cy="464.31" r="1.6" fill="#6cc0c0"/>
<circle cx="376.58" cy="468.75" r="1.6" fill="#6cc0c0"/>
<circle cx="362.23" cy="465.90" r="1.6" fill="#6cc0c0"/>
<circle cx="364.04" cy="469.08" r="1.6" fill="#6cc0c0"/>
<circle cx="360.10" cy="467.83" r="1.6" fill="#6cc0c0"/>
<circle cx="341.10" cy="480.30" r="1.6" fill="#6cc0c0"/>
<circle cx="339.80" cy="480.60" r="1.6" fill="#6cc0c0"/>
<circle cx="343.00" cy="480.00" r="1.6" fill="#6cc0c0"/>
<circle cx="347.60" cy="477.70" r="1.6" fill="#6cc0c0"/>
<circle cx="349.50" cy="478.00" r="1.6" fill="#6cc0c0"/>
<circle cx="354.90" cy="474.80" r="1.6" fill="#6cc0c0"/>
<circle cx="358.20" cy="479.20" r="1.6" fill="#6cc0c0"/>
<circle cx="358.80" cy="478.70" r="1.6" fill="#6cc0c0"/>
<circle cx="362.90" cy="477.20" r="1.6" fill="#6cc0c0"/>
<circle cx="365.20" cy="464.90" r="1.6" fill="#6cc0c0"/>
<circle cx="371.60" cy="462.90" r="1.6" fill="#6cc0c0"/>
<circle cx="375.70" cy="461.10" r="1.6" fill="#6cc0c0"/>
<circle cx="378.10" cy="471.10" r="1.6" fill="#6cc0c0"/>
<circle cx="371.60" cy="469.90" r="1.6" fill="#6cc0c0"/>
<circle cx="363.50" cy="471.60" r="1.6" fill="#6cc0c0"/>
<circle cx="376.20" cy="462.20" r="1.6" fill="#6cc0c0"/>
<circle cx="382.00" cy="459.90" r="1.6" fill="#6cc0c0"/>
<circle cx="386.70" cy="457.00" r="1.6" fill="#6cc0c0"/>
<circle cx="389.60" cy="455.20" r="1.6" fill="#6cc0c0"/>
<circle cx="392.00" cy="451.10" r="1.6" fill="#6cc0c0"/>
<circle cx="396.00" cy="448.20" r="1.6" fill="#6cc0c0"/>
<circle cx="396.60" cy="452.30" r="1.6" fill="#6cc0c0"/>
<circle cx="396.00" cy="459.30" r="1.6" fill="#6cc0c0"/>
<circle cx="398.40" cy="461.10" r="1.6" fill="#6cc0c0"/>
<circle cx="401.90" cy="448.80" r="1.6" fill="#6cc0c0"/>
<circle cx="402.50" cy="454.00" r="1.6" fill="#6cc0c0"/>
<circle cx="403.10" cy="458.10" r="1.6" fill="#6cc0c0"/>
<circle cx="404.20" cy="444.10" r="1.6" fill="#6cc0c0"/>
<circle cx="402.90" cy="448.90" r="1.6" fill="#6cc0c0"/>
<circle cx="402.90" cy="451.80" r="1.6" fill="#6cc0c0"/>
<circle cx="401.50" cy="454.70" r="1.6" fill="#6cc0c0"/>
<circle cx="402.90" cy="458.40" r="1.6" fill="#6cc0c0"/>
<circle cx="405.10" cy="443.80" r="1.6" fill="#6cc0c0"/>
<circle cx="407.30" cy="445.30" r="1.6" fill="#6cc0c0"/>
<circle cx="407.30" cy="453.30" r="1.6" fill="#6cc0c0"/>
<circle cx="409.50" cy="443.50" r="1.6" fill="#6cc0c0"/>
<circle cx="409.50" cy="447.50" r="1.6" fill="#6cc0c0"/>
<circle cx="410.90" cy="448.90" r="1.6" fill="#6cc0c0"/>
<circle cx="412.40" cy="447.10" r="1.6" fill="#6cc0c0"/>
<circle cx="410.20" cy="457.60" r="1.6" fill="#6cc0c0"/>
<circle cx="412.00" cy="459.10" r="1.6" fill="#6cc0c0"/>
<circle cx="413.80" cy="451.80" r="1.6" fill="#6cc0c0"/>
<circle cx="416.70" cy="451.10" r="1.6" fill="#6cc0c0"/>
<circle cx="416.00" cy="443.80" r="1.6" fill="#6cc0c0"/>
<circle cx="418.20" cy="441.60" r="1.6" fill="#6cc0c0"/>
<circle cx="423.30" cy="448.20" r="1.6" fill="#6cc0c0"/>
<circle cx="422.50" cy="453.30" r="1.6" fill="#6cc0c0"/>
<circle cx="422.50" cy="456.20" r="1.6" fill="#6cc0c0"/>
<circle cx="425.50" cy="442.00" r="1.6" fill="#6cc0c0"/>
<circle cx="427.60" cy="446.00" r="1.6" fill="#6cc0c0"/>
<circle cx="429.80" cy="456.50" r="1.6" fill="#6cc0c0"/>
<circle cx="434.90" cy="439.50" r="1.6" fill="#6cc0c0"/>
<circle cx="436.40" cy="437.30" r="1.6" fill="#6cc0c0"/>
<circle cx="436.40" cy="443.50" r="1.6" fill="#6cc0c0"/>
<circle cx="438.50" cy="447.10" r="1.6" fill="#6cc0c0"/>
<circle cx="440.90" cy="436.40" r="1.6" fill="#6cc0c0"/>
<circle cx="447.70" cy="430.90" r="1.6" fill="#6cc0c0"/>
<circle cx="447.70" cy="433.20" r="1.6" fill="#6cc0c0"/>
<circle cx="447.70" cy="438.60" r="1.6" fill="#6cc0c0"/>
<circle cx="454.50" cy="429.10" r="1.6" fill="#6cc0c0"/>
<circle cx="455.90" cy="427.70" r="1.6" fill="#6cc0c0"/>
<circle cx="456.80" cy="429.50" r="1.6" fill="#6cc0c0"/>
<circle cx="454.10" cy="430.90" r="1.6" fill="#6cc0c0"/>
<circle cx="461.40" cy="439.50" r="1.6" fill="#6cc0c0"/>
<circle cx="463.20" cy="437.30" r="1.6" fill="#6cc0c0"/>
<circle cx="467.70" cy="438.60" r="1.6" fill="#6cc0c0"/>
<circle cx="405.50" cy="444.10" r="1.6" fill="#6cc0c0"/>
<circle cx="440.90" cy="435.90" r="1.6" fill="#6cc0c0"/>
<circle cx="434.50" cy="440.50" r="1.6" fill="#6cc0c0"/>
<text x="330" y="426" font-size="5.3" fill="#262626">R<tspan font-size="3.8" dy="-2.2">2</tspan><tspan dy="2.2">: 0.9</tspan></text>
<text x="403.90" y="506.80" font-size="6.8" text-anchor="middle" fill="#262626">reference [bpm]</text>
<text transform="translate(311.00 452.80) rotate(-90) scale(1 1.0)" font-size="6.7" text-anchor="middle" fill="#262626">proposed method [bpm]</text>
</svg></body></html>
